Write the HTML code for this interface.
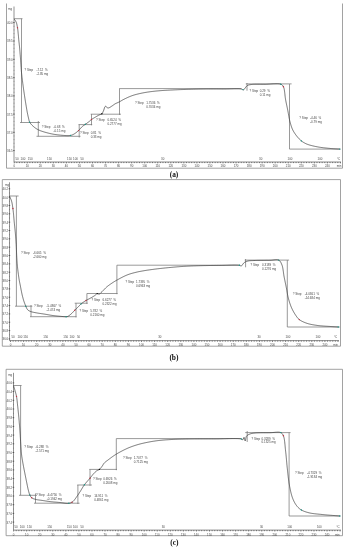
<!DOCTYPE html>
<html><head><meta charset="utf-8"><title>TGA curves</title>
<style>
html,body{margin:0;padding:0;background:#fff;}
body{width:346px;height:550px;overflow:hidden;}
svg{display:block;filter:blur(0.25px);}
svg text{font-family:"Liberation Sans",Arial,sans-serif;}
</style></head>
<body>
<svg width="346" height="550" viewBox="0 0 346 550">
<rect width="346" height="550" fill="#fff"/>
<line x1="6.50" y1="3.50" x2="6.50" y2="168.20" stroke="#8a8a8a" stroke-width="0.8"/>
<line x1="342.50" y1="3.50" x2="342.50" y2="168.20" stroke="#8a8a8a" stroke-width="0.8"/>
<line x1="6.50" y1="168.20" x2="342.50" y2="168.20" stroke="#8a8a8a" stroke-width="0.8"/>
<line x1="14.00" y1="6.50" x2="14.00" y2="162.00" stroke="#6e6e6e" stroke-width="0.75"/>
<line x1="14.00" y1="162.00" x2="341.00" y2="162.00" stroke="#5a5a5a" stroke-width="0.7"/>
<line x1="13.10" y1="22.60" x2="14.70" y2="22.60" stroke="#333" stroke-width="0.7"/>
<text x="12.70" y="24.04" font-size="2.9" text-anchor="end" fill="#4a4a4a">40.0</text>
<line x1="13.10" y1="41.00" x2="14.70" y2="41.00" stroke="#333" stroke-width="0.7"/>
<text x="12.70" y="42.44" font-size="2.9" text-anchor="end" fill="#4a4a4a">39.5</text>
<line x1="13.10" y1="59.30" x2="14.70" y2="59.30" stroke="#333" stroke-width="0.7"/>
<text x="12.70" y="60.74" font-size="2.9" text-anchor="end" fill="#4a4a4a">39.0</text>
<line x1="13.10" y1="77.70" x2="14.70" y2="77.70" stroke="#333" stroke-width="0.7"/>
<text x="12.70" y="79.14" font-size="2.9" text-anchor="end" fill="#4a4a4a">38.5</text>
<line x1="13.10" y1="95.90" x2="14.70" y2="95.90" stroke="#333" stroke-width="0.7"/>
<text x="12.70" y="97.34" font-size="2.9" text-anchor="end" fill="#4a4a4a">38.0</text>
<line x1="13.10" y1="114.10" x2="14.70" y2="114.10" stroke="#333" stroke-width="0.7"/>
<text x="12.70" y="115.54" font-size="2.9" text-anchor="end" fill="#4a4a4a">37.5</text>
<line x1="13.10" y1="132.30" x2="14.70" y2="132.30" stroke="#333" stroke-width="0.7"/>
<text x="12.70" y="133.74" font-size="2.9" text-anchor="end" fill="#4a4a4a">37.0</text>
<line x1="13.10" y1="150.60" x2="14.70" y2="150.60" stroke="#333" stroke-width="0.7"/>
<text x="12.70" y="152.04" font-size="2.9" text-anchor="end" fill="#4a4a4a">36.5</text>
<line x1="13.50" y1="26.28" x2="14.50" y2="26.28" stroke="#666" stroke-width="0.5"/>
<line x1="13.50" y1="29.96" x2="14.50" y2="29.96" stroke="#666" stroke-width="0.5"/>
<line x1="13.50" y1="33.64" x2="14.50" y2="33.64" stroke="#666" stroke-width="0.5"/>
<line x1="13.50" y1="37.32" x2="14.50" y2="37.32" stroke="#666" stroke-width="0.5"/>
<line x1="13.50" y1="44.66" x2="14.50" y2="44.66" stroke="#666" stroke-width="0.5"/>
<line x1="13.50" y1="48.32" x2="14.50" y2="48.32" stroke="#666" stroke-width="0.5"/>
<line x1="13.50" y1="51.98" x2="14.50" y2="51.98" stroke="#666" stroke-width="0.5"/>
<line x1="13.50" y1="55.64" x2="14.50" y2="55.64" stroke="#666" stroke-width="0.5"/>
<line x1="13.50" y1="62.98" x2="14.50" y2="62.98" stroke="#666" stroke-width="0.5"/>
<line x1="13.50" y1="66.66" x2="14.50" y2="66.66" stroke="#666" stroke-width="0.5"/>
<line x1="13.50" y1="70.34" x2="14.50" y2="70.34" stroke="#666" stroke-width="0.5"/>
<line x1="13.50" y1="74.02" x2="14.50" y2="74.02" stroke="#666" stroke-width="0.5"/>
<line x1="13.50" y1="81.34" x2="14.50" y2="81.34" stroke="#666" stroke-width="0.5"/>
<line x1="13.50" y1="84.98" x2="14.50" y2="84.98" stroke="#666" stroke-width="0.5"/>
<line x1="13.50" y1="88.62" x2="14.50" y2="88.62" stroke="#666" stroke-width="0.5"/>
<line x1="13.50" y1="92.26" x2="14.50" y2="92.26" stroke="#666" stroke-width="0.5"/>
<line x1="13.50" y1="99.54" x2="14.50" y2="99.54" stroke="#666" stroke-width="0.5"/>
<line x1="13.50" y1="103.18" x2="14.50" y2="103.18" stroke="#666" stroke-width="0.5"/>
<line x1="13.50" y1="106.82" x2="14.50" y2="106.82" stroke="#666" stroke-width="0.5"/>
<line x1="13.50" y1="110.46" x2="14.50" y2="110.46" stroke="#666" stroke-width="0.5"/>
<line x1="13.50" y1="117.74" x2="14.50" y2="117.74" stroke="#666" stroke-width="0.5"/>
<line x1="13.50" y1="121.38" x2="14.50" y2="121.38" stroke="#666" stroke-width="0.5"/>
<line x1="13.50" y1="125.02" x2="14.50" y2="125.02" stroke="#666" stroke-width="0.5"/>
<line x1="13.50" y1="128.66" x2="14.50" y2="128.66" stroke="#666" stroke-width="0.5"/>
<line x1="13.50" y1="135.96" x2="14.50" y2="135.96" stroke="#666" stroke-width="0.5"/>
<line x1="13.50" y1="139.62" x2="14.50" y2="139.62" stroke="#666" stroke-width="0.5"/>
<line x1="13.50" y1="143.28" x2="14.50" y2="143.28" stroke="#666" stroke-width="0.5"/>
<line x1="13.50" y1="146.94" x2="14.50" y2="146.94" stroke="#666" stroke-width="0.5"/>
<line x1="14.20" y1="162.00" x2="14.20" y2="163.40" stroke="#333" stroke-width="0.6"/>
<text x="14.20" y="167.44" font-size="2.9" text-anchor="middle" fill="#4a4a4a">0</text>
<line x1="16.81" y1="162.00" x2="16.81" y2="163.10" stroke="#333" stroke-width="0.6"/>
<line x1="19.42" y1="162.00" x2="19.42" y2="163.10" stroke="#333" stroke-width="0.6"/>
<line x1="22.03" y1="162.00" x2="22.03" y2="163.10" stroke="#333" stroke-width="0.6"/>
<line x1="24.64" y1="162.00" x2="24.64" y2="163.10" stroke="#333" stroke-width="0.6"/>
<line x1="27.25" y1="162.00" x2="27.25" y2="163.40" stroke="#333" stroke-width="0.6"/>
<text x="27.25" y="167.44" font-size="2.9" text-anchor="middle" fill="#4a4a4a">10</text>
<line x1="29.86" y1="162.00" x2="29.86" y2="163.10" stroke="#333" stroke-width="0.6"/>
<line x1="32.47" y1="162.00" x2="32.47" y2="163.10" stroke="#333" stroke-width="0.6"/>
<line x1="35.08" y1="162.00" x2="35.08" y2="163.10" stroke="#333" stroke-width="0.6"/>
<line x1="37.69" y1="162.00" x2="37.69" y2="163.10" stroke="#333" stroke-width="0.6"/>
<line x1="40.30" y1="162.00" x2="40.30" y2="163.40" stroke="#333" stroke-width="0.6"/>
<text x="40.30" y="167.44" font-size="2.9" text-anchor="middle" fill="#4a4a4a">20</text>
<line x1="42.91" y1="162.00" x2="42.91" y2="163.10" stroke="#333" stroke-width="0.6"/>
<line x1="45.52" y1="162.00" x2="45.52" y2="163.10" stroke="#333" stroke-width="0.6"/>
<line x1="48.13" y1="162.00" x2="48.13" y2="163.10" stroke="#333" stroke-width="0.6"/>
<line x1="50.74" y1="162.00" x2="50.74" y2="163.10" stroke="#333" stroke-width="0.6"/>
<line x1="53.35" y1="162.00" x2="53.35" y2="163.40" stroke="#333" stroke-width="0.6"/>
<text x="53.35" y="167.44" font-size="2.9" text-anchor="middle" fill="#4a4a4a">30</text>
<line x1="55.96" y1="162.00" x2="55.96" y2="163.10" stroke="#333" stroke-width="0.6"/>
<line x1="58.57" y1="162.00" x2="58.57" y2="163.10" stroke="#333" stroke-width="0.6"/>
<line x1="61.18" y1="162.00" x2="61.18" y2="163.10" stroke="#333" stroke-width="0.6"/>
<line x1="63.79" y1="162.00" x2="63.79" y2="163.10" stroke="#333" stroke-width="0.6"/>
<line x1="66.40" y1="162.00" x2="66.40" y2="163.40" stroke="#333" stroke-width="0.6"/>
<text x="66.40" y="167.44" font-size="2.9" text-anchor="middle" fill="#4a4a4a">40</text>
<line x1="69.01" y1="162.00" x2="69.01" y2="163.10" stroke="#333" stroke-width="0.6"/>
<line x1="71.62" y1="162.00" x2="71.62" y2="163.10" stroke="#333" stroke-width="0.6"/>
<line x1="74.23" y1="162.00" x2="74.23" y2="163.10" stroke="#333" stroke-width="0.6"/>
<line x1="76.84" y1="162.00" x2="76.84" y2="163.10" stroke="#333" stroke-width="0.6"/>
<line x1="79.45" y1="162.00" x2="79.45" y2="163.40" stroke="#333" stroke-width="0.6"/>
<text x="79.45" y="167.44" font-size="2.9" text-anchor="middle" fill="#4a4a4a">50</text>
<line x1="82.06" y1="162.00" x2="82.06" y2="163.10" stroke="#333" stroke-width="0.6"/>
<line x1="84.67" y1="162.00" x2="84.67" y2="163.10" stroke="#333" stroke-width="0.6"/>
<line x1="87.28" y1="162.00" x2="87.28" y2="163.10" stroke="#333" stroke-width="0.6"/>
<line x1="89.89" y1="162.00" x2="89.89" y2="163.10" stroke="#333" stroke-width="0.6"/>
<line x1="92.50" y1="162.00" x2="92.50" y2="163.40" stroke="#333" stroke-width="0.6"/>
<text x="92.50" y="167.44" font-size="2.9" text-anchor="middle" fill="#4a4a4a">60</text>
<line x1="95.11" y1="162.00" x2="95.11" y2="163.10" stroke="#333" stroke-width="0.6"/>
<line x1="97.72" y1="162.00" x2="97.72" y2="163.10" stroke="#333" stroke-width="0.6"/>
<line x1="100.33" y1="162.00" x2="100.33" y2="163.10" stroke="#333" stroke-width="0.6"/>
<line x1="102.94" y1="162.00" x2="102.94" y2="163.10" stroke="#333" stroke-width="0.6"/>
<line x1="105.55" y1="162.00" x2="105.55" y2="163.40" stroke="#333" stroke-width="0.6"/>
<text x="105.55" y="167.44" font-size="2.9" text-anchor="middle" fill="#4a4a4a">70</text>
<line x1="108.16" y1="162.00" x2="108.16" y2="163.10" stroke="#333" stroke-width="0.6"/>
<line x1="110.77" y1="162.00" x2="110.77" y2="163.10" stroke="#333" stroke-width="0.6"/>
<line x1="113.38" y1="162.00" x2="113.38" y2="163.10" stroke="#333" stroke-width="0.6"/>
<line x1="115.99" y1="162.00" x2="115.99" y2="163.10" stroke="#333" stroke-width="0.6"/>
<line x1="118.60" y1="162.00" x2="118.60" y2="163.40" stroke="#333" stroke-width="0.6"/>
<text x="118.60" y="167.44" font-size="2.9" text-anchor="middle" fill="#4a4a4a">80</text>
<line x1="121.21" y1="162.00" x2="121.21" y2="163.10" stroke="#333" stroke-width="0.6"/>
<line x1="123.82" y1="162.00" x2="123.82" y2="163.10" stroke="#333" stroke-width="0.6"/>
<line x1="126.43" y1="162.00" x2="126.43" y2="163.10" stroke="#333" stroke-width="0.6"/>
<line x1="129.04" y1="162.00" x2="129.04" y2="163.10" stroke="#333" stroke-width="0.6"/>
<line x1="131.65" y1="162.00" x2="131.65" y2="163.40" stroke="#333" stroke-width="0.6"/>
<text x="131.65" y="167.44" font-size="2.9" text-anchor="middle" fill="#4a4a4a">90</text>
<line x1="134.26" y1="162.00" x2="134.26" y2="163.10" stroke="#333" stroke-width="0.6"/>
<line x1="136.87" y1="162.00" x2="136.87" y2="163.10" stroke="#333" stroke-width="0.6"/>
<line x1="139.48" y1="162.00" x2="139.48" y2="163.10" stroke="#333" stroke-width="0.6"/>
<line x1="142.09" y1="162.00" x2="142.09" y2="163.10" stroke="#333" stroke-width="0.6"/>
<line x1="144.70" y1="162.00" x2="144.70" y2="163.40" stroke="#333" stroke-width="0.6"/>
<text x="144.70" y="167.44" font-size="2.9" text-anchor="middle" fill="#4a4a4a">100</text>
<line x1="147.31" y1="162.00" x2="147.31" y2="163.10" stroke="#333" stroke-width="0.6"/>
<line x1="149.92" y1="162.00" x2="149.92" y2="163.10" stroke="#333" stroke-width="0.6"/>
<line x1="152.53" y1="162.00" x2="152.53" y2="163.10" stroke="#333" stroke-width="0.6"/>
<line x1="155.14" y1="162.00" x2="155.14" y2="163.10" stroke="#333" stroke-width="0.6"/>
<line x1="157.75" y1="162.00" x2="157.75" y2="163.40" stroke="#333" stroke-width="0.6"/>
<text x="157.75" y="167.44" font-size="2.9" text-anchor="middle" fill="#4a4a4a">110</text>
<line x1="160.36" y1="162.00" x2="160.36" y2="163.10" stroke="#333" stroke-width="0.6"/>
<line x1="162.97" y1="162.00" x2="162.97" y2="163.10" stroke="#333" stroke-width="0.6"/>
<line x1="165.58" y1="162.00" x2="165.58" y2="163.10" stroke="#333" stroke-width="0.6"/>
<line x1="168.19" y1="162.00" x2="168.19" y2="163.10" stroke="#333" stroke-width="0.6"/>
<line x1="170.80" y1="162.00" x2="170.80" y2="163.40" stroke="#333" stroke-width="0.6"/>
<text x="170.80" y="167.44" font-size="2.9" text-anchor="middle" fill="#4a4a4a">120</text>
<line x1="173.41" y1="162.00" x2="173.41" y2="163.10" stroke="#333" stroke-width="0.6"/>
<line x1="176.02" y1="162.00" x2="176.02" y2="163.10" stroke="#333" stroke-width="0.6"/>
<line x1="178.63" y1="162.00" x2="178.63" y2="163.10" stroke="#333" stroke-width="0.6"/>
<line x1="181.24" y1="162.00" x2="181.24" y2="163.10" stroke="#333" stroke-width="0.6"/>
<line x1="183.85" y1="162.00" x2="183.85" y2="163.40" stroke="#333" stroke-width="0.6"/>
<text x="183.85" y="167.44" font-size="2.9" text-anchor="middle" fill="#4a4a4a">130</text>
<line x1="186.46" y1="162.00" x2="186.46" y2="163.10" stroke="#333" stroke-width="0.6"/>
<line x1="189.07" y1="162.00" x2="189.07" y2="163.10" stroke="#333" stroke-width="0.6"/>
<line x1="191.68" y1="162.00" x2="191.68" y2="163.10" stroke="#333" stroke-width="0.6"/>
<line x1="194.29" y1="162.00" x2="194.29" y2="163.10" stroke="#333" stroke-width="0.6"/>
<line x1="196.90" y1="162.00" x2="196.90" y2="163.40" stroke="#333" stroke-width="0.6"/>
<text x="196.90" y="167.44" font-size="2.9" text-anchor="middle" fill="#4a4a4a">140</text>
<line x1="199.51" y1="162.00" x2="199.51" y2="163.10" stroke="#333" stroke-width="0.6"/>
<line x1="202.12" y1="162.00" x2="202.12" y2="163.10" stroke="#333" stroke-width="0.6"/>
<line x1="204.73" y1="162.00" x2="204.73" y2="163.10" stroke="#333" stroke-width="0.6"/>
<line x1="207.34" y1="162.00" x2="207.34" y2="163.10" stroke="#333" stroke-width="0.6"/>
<line x1="209.95" y1="162.00" x2="209.95" y2="163.40" stroke="#333" stroke-width="0.6"/>
<text x="209.95" y="167.44" font-size="2.9" text-anchor="middle" fill="#4a4a4a">150</text>
<line x1="212.56" y1="162.00" x2="212.56" y2="163.10" stroke="#333" stroke-width="0.6"/>
<line x1="215.17" y1="162.00" x2="215.17" y2="163.10" stroke="#333" stroke-width="0.6"/>
<line x1="217.78" y1="162.00" x2="217.78" y2="163.10" stroke="#333" stroke-width="0.6"/>
<line x1="220.39" y1="162.00" x2="220.39" y2="163.10" stroke="#333" stroke-width="0.6"/>
<line x1="223.00" y1="162.00" x2="223.00" y2="163.40" stroke="#333" stroke-width="0.6"/>
<text x="223.00" y="167.44" font-size="2.9" text-anchor="middle" fill="#4a4a4a">160</text>
<line x1="225.61" y1="162.00" x2="225.61" y2="163.10" stroke="#333" stroke-width="0.6"/>
<line x1="228.22" y1="162.00" x2="228.22" y2="163.10" stroke="#333" stroke-width="0.6"/>
<line x1="230.83" y1="162.00" x2="230.83" y2="163.10" stroke="#333" stroke-width="0.6"/>
<line x1="233.44" y1="162.00" x2="233.44" y2="163.10" stroke="#333" stroke-width="0.6"/>
<line x1="236.05" y1="162.00" x2="236.05" y2="163.40" stroke="#333" stroke-width="0.6"/>
<text x="236.05" y="167.44" font-size="2.9" text-anchor="middle" fill="#4a4a4a">170</text>
<line x1="238.66" y1="162.00" x2="238.66" y2="163.10" stroke="#333" stroke-width="0.6"/>
<line x1="241.27" y1="162.00" x2="241.27" y2="163.10" stroke="#333" stroke-width="0.6"/>
<line x1="243.88" y1="162.00" x2="243.88" y2="163.10" stroke="#333" stroke-width="0.6"/>
<line x1="246.49" y1="162.00" x2="246.49" y2="163.10" stroke="#333" stroke-width="0.6"/>
<line x1="249.10" y1="162.00" x2="249.10" y2="163.40" stroke="#333" stroke-width="0.6"/>
<text x="249.10" y="167.44" font-size="2.9" text-anchor="middle" fill="#4a4a4a">180</text>
<line x1="251.71" y1="162.00" x2="251.71" y2="163.10" stroke="#333" stroke-width="0.6"/>
<line x1="254.32" y1="162.00" x2="254.32" y2="163.10" stroke="#333" stroke-width="0.6"/>
<line x1="256.93" y1="162.00" x2="256.93" y2="163.10" stroke="#333" stroke-width="0.6"/>
<line x1="259.54" y1="162.00" x2="259.54" y2="163.10" stroke="#333" stroke-width="0.6"/>
<line x1="262.15" y1="162.00" x2="262.15" y2="163.40" stroke="#333" stroke-width="0.6"/>
<text x="262.15" y="167.44" font-size="2.9" text-anchor="middle" fill="#4a4a4a">190</text>
<line x1="264.76" y1="162.00" x2="264.76" y2="163.10" stroke="#333" stroke-width="0.6"/>
<line x1="267.37" y1="162.00" x2="267.37" y2="163.10" stroke="#333" stroke-width="0.6"/>
<line x1="269.98" y1="162.00" x2="269.98" y2="163.10" stroke="#333" stroke-width="0.6"/>
<line x1="272.59" y1="162.00" x2="272.59" y2="163.10" stroke="#333" stroke-width="0.6"/>
<line x1="275.20" y1="162.00" x2="275.20" y2="163.40" stroke="#333" stroke-width="0.6"/>
<text x="275.20" y="167.44" font-size="2.9" text-anchor="middle" fill="#4a4a4a">200</text>
<line x1="277.81" y1="162.00" x2="277.81" y2="163.10" stroke="#333" stroke-width="0.6"/>
<line x1="280.42" y1="162.00" x2="280.42" y2="163.10" stroke="#333" stroke-width="0.6"/>
<line x1="283.03" y1="162.00" x2="283.03" y2="163.10" stroke="#333" stroke-width="0.6"/>
<line x1="285.64" y1="162.00" x2="285.64" y2="163.10" stroke="#333" stroke-width="0.6"/>
<line x1="288.25" y1="162.00" x2="288.25" y2="163.40" stroke="#333" stroke-width="0.6"/>
<text x="288.25" y="167.44" font-size="2.9" text-anchor="middle" fill="#4a4a4a">210</text>
<line x1="290.86" y1="162.00" x2="290.86" y2="163.10" stroke="#333" stroke-width="0.6"/>
<line x1="293.47" y1="162.00" x2="293.47" y2="163.10" stroke="#333" stroke-width="0.6"/>
<line x1="296.08" y1="162.00" x2="296.08" y2="163.10" stroke="#333" stroke-width="0.6"/>
<line x1="298.69" y1="162.00" x2="298.69" y2="163.10" stroke="#333" stroke-width="0.6"/>
<line x1="301.30" y1="162.00" x2="301.30" y2="163.40" stroke="#333" stroke-width="0.6"/>
<text x="301.30" y="167.44" font-size="2.9" text-anchor="middle" fill="#4a4a4a">220</text>
<line x1="303.91" y1="162.00" x2="303.91" y2="163.10" stroke="#333" stroke-width="0.6"/>
<line x1="306.52" y1="162.00" x2="306.52" y2="163.10" stroke="#333" stroke-width="0.6"/>
<line x1="309.13" y1="162.00" x2="309.13" y2="163.10" stroke="#333" stroke-width="0.6"/>
<line x1="311.74" y1="162.00" x2="311.74" y2="163.10" stroke="#333" stroke-width="0.6"/>
<line x1="314.35" y1="162.00" x2="314.35" y2="163.40" stroke="#333" stroke-width="0.6"/>
<text x="314.35" y="167.44" font-size="2.9" text-anchor="middle" fill="#4a4a4a">230</text>
<line x1="316.96" y1="162.00" x2="316.96" y2="163.10" stroke="#333" stroke-width="0.6"/>
<line x1="319.57" y1="162.00" x2="319.57" y2="163.10" stroke="#333" stroke-width="0.6"/>
<line x1="322.18" y1="162.00" x2="322.18" y2="163.10" stroke="#333" stroke-width="0.6"/>
<line x1="324.79" y1="162.00" x2="324.79" y2="163.10" stroke="#333" stroke-width="0.6"/>
<line x1="327.40" y1="162.00" x2="327.40" y2="163.40" stroke="#333" stroke-width="0.6"/>
<text x="327.40" y="167.44" font-size="2.9" text-anchor="middle" fill="#4a4a4a">240</text>
<line x1="330.01" y1="162.00" x2="330.01" y2="163.10" stroke="#333" stroke-width="0.6"/>
<line x1="332.62" y1="162.00" x2="332.62" y2="163.10" stroke="#333" stroke-width="0.6"/>
<line x1="335.23" y1="162.00" x2="335.23" y2="163.10" stroke="#333" stroke-width="0.6"/>
<line x1="337.84" y1="162.00" x2="337.84" y2="163.10" stroke="#333" stroke-width="0.6"/>
<line x1="340.45" y1="162.00" x2="340.45" y2="163.40" stroke="#333" stroke-width="0.6"/>
<text x="339.00" y="167.44" font-size="2.9" text-anchor="middle" fill="#4a4a4a">min</text>
<text x="8.00" y="9.94" font-size="2.9" text-anchor="start" fill="#4a4a4a">mg</text>
<text x="17.00" y="160.14" font-size="2.9" text-anchor="middle" fill="#4a4a4a">50</text>
<text x="23.00" y="160.14" font-size="2.9" text-anchor="middle" fill="#4a4a4a">100</text>
<text x="30.20" y="160.14" font-size="2.9" text-anchor="middle" fill="#4a4a4a">150</text>
<text x="49.50" y="160.14" font-size="2.9" text-anchor="middle" fill="#4a4a4a">150</text>
<text x="69.50" y="160.14" font-size="2.9" text-anchor="middle" fill="#4a4a4a">150</text>
<text x="75.50" y="160.14" font-size="2.9" text-anchor="middle" fill="#4a4a4a">100</text>
<text x="82.00" y="160.14" font-size="2.9" text-anchor="middle" fill="#4a4a4a">50</text>
<text x="162.70" y="160.14" font-size="2.9" text-anchor="middle" fill="#4a4a4a">30</text>
<text x="260.70" y="160.14" font-size="2.9" text-anchor="middle" fill="#4a4a4a">30</text>
<text x="290.00" y="160.14" font-size="2.9" text-anchor="middle" fill="#4a4a4a">100</text>
<text x="320.00" y="160.14" font-size="2.9" text-anchor="middle" fill="#4a4a4a">100</text>
<text x="338.50" y="160.14" font-size="2.9" text-anchor="middle" fill="#4a4a4a">°C</text>
<polyline points="14.00,18.70 22.50,18.70" fill="none" stroke="#6e6e6e" stroke-width="0.7"/>
<polyline points="21.50,18.70 21.50,122.50" fill="none" stroke="#6e6e6e" stroke-width="0.7"/>
<polyline points="20.00,122.50 40.00,122.50" fill="none" stroke="#6e6e6e" stroke-width="0.7"/>
<polyline points="38.30,121.00 38.30,136.30" fill="none" stroke="#6e6e6e" stroke-width="0.7"/>
<polyline points="36.50,136.30 80.50,136.30" fill="none" stroke="#6e6e6e" stroke-width="0.7"/>
<polyline points="79.20,137.50 79.20,124.60" fill="none" stroke="#6e6e6e" stroke-width="0.7"/>
<polyline points="78.50,124.60 92.20,124.60" fill="none" stroke="#6e6e6e" stroke-width="0.7"/>
<polyline points="91.50,125.30 91.50,114.20" fill="none" stroke="#6e6e6e" stroke-width="0.7"/>
<polyline points="90.70,114.20 121.00,114.20" fill="none" stroke="#6e6e6e" stroke-width="0.7"/>
<polyline points="119.50,114.90 119.50,88.60" fill="none" stroke="#6e6e6e" stroke-width="0.7"/>
<polyline points="119.30,88.60 241.50,88.60" fill="none" stroke="#6e6e6e" stroke-width="0.7"/>
<polyline points="245.80,83.90 291.60,83.90" fill="none" stroke="#6e6e6e" stroke-width="0.7"/>
<polyline points="247.00,83.00 247.00,90.70" fill="none" stroke="#6e6e6e" stroke-width="0.7"/>
<polyline points="289.50,84.10 289.50,149.10" fill="none" stroke="#6e6e6e" stroke-width="0.7"/>
<polyline points="289.50,149.10 340.50,149.10" fill="none" stroke="#6e6e6e" stroke-width="0.7"/>
<path d="M14.10,18.90 L14.53,19.54 L14.98,20.16 L15.43,20.80 L15.84,21.47 L16.20,22.20 L16.43,22.81 L16.63,23.45 L16.81,24.13 L16.97,24.83 L17.12,25.55 L17.25,26.27 L17.38,26.99 L17.50,27.70 L17.62,28.42 L17.72,29.15 L17.82,29.88 L17.90,30.61 L17.98,31.35 L18.05,32.09 L18.12,32.84 L18.20,33.60 L18.27,34.32 L18.34,35.04 L18.41,35.77 L18.47,36.51 L18.53,37.25 L18.60,37.99 L18.66,38.73 L18.73,39.47 L18.80,40.20 L18.87,40.92 L18.95,41.63 L19.03,42.33 L19.11,43.03 L19.19,43.73 L19.26,44.45 L19.34,45.18 L19.42,45.93 L19.50,46.70 L19.56,47.36 L19.63,48.04 L19.69,48.73 L19.75,49.43 L19.82,50.14 L19.88,50.86 L19.94,51.59 L20.00,52.32 L20.06,53.06 L20.12,53.80 L20.18,54.53 L20.24,55.27 L20.30,56.00 L20.35,56.71 L20.41,57.43 L20.46,58.16 L20.51,58.89 L20.56,59.63 L20.61,60.37 L20.66,61.11 L20.71,61.85 L20.76,62.57 L20.81,63.29 L20.86,63.99 L20.91,64.68 L20.95,65.35 L21.00,66.00 L21.06,66.77 L21.11,67.50 L21.15,68.19 L21.20,68.87 L21.25,69.54 L21.30,70.23 L21.36,70.94 L21.42,71.69 L21.50,72.50 L21.56,73.13 L21.63,73.79 L21.71,74.48 L21.79,75.19 L21.87,75.91 L21.95,76.66 L22.04,77.41 L22.14,78.18 L22.23,78.95 L22.33,79.73 L22.42,80.51 L22.52,81.28 L22.62,82.05 L22.71,82.81 L22.81,83.56 L22.91,84.29 L23.00,85.00 L23.10,85.73 L23.19,86.45 L23.29,87.17 L23.39,87.88 L23.49,88.59 L23.59,89.29 L23.69,89.99 L23.79,90.69 L23.89,91.38 L23.99,92.07 L24.09,92.76 L24.19,93.45 L24.30,94.13 L24.40,94.82 L24.50,95.50 L24.61,96.25 L24.73,97.00 L24.84,97.74 L24.96,98.49 L25.07,99.23 L25.19,99.96 L25.30,100.70 L25.42,101.43 L25.53,102.15 L25.65,102.87 L25.77,103.59 L25.88,104.30 L26.00,105.00 L26.13,105.76 L26.25,106.52 L26.38,107.28 L26.51,108.04 L26.64,108.79 L26.76,109.53 L26.89,110.26 L27.02,110.97 L27.15,111.67 L27.27,112.35 L27.40,113.00 L27.56,113.78 L27.71,114.53 L27.86,115.25 L28.01,115.95 L28.17,116.64 L28.33,117.32 L28.50,118.00 L28.67,118.73 L28.82,119.45 L28.98,120.16 L29.16,120.85 L29.39,121.54 L29.70,122.20 L30.06,122.81 L30.48,123.41 L30.94,123.99 L31.44,124.57 L31.97,125.13 L32.53,125.67 L33.10,126.20 L33.60,126.64 L34.11,127.07 L34.63,127.49 L35.18,127.90 L35.74,128.31 L36.34,128.70 L36.96,129.07 L37.61,129.44 L38.30,129.80 L38.88,130.07 L39.48,130.34 L40.12,130.60 L40.78,130.86 L41.46,131.10 L42.16,131.34 L42.88,131.58 L43.60,131.81 L44.34,132.03 L45.07,132.24 L45.81,132.45 L46.55,132.65 L47.28,132.84 L47.99,133.02 L48.70,133.20 L49.43,133.38 L50.16,133.55 L50.89,133.71 L51.61,133.86 L52.34,134.01 L53.07,134.15 L53.80,134.28 L54.53,134.40 L55.27,134.52 L56.01,134.63 L56.75,134.73 L57.49,134.83 L58.24,134.92 L59.00,135.00 L59.71,135.07 L60.45,135.15 L61.21,135.22 L61.98,135.29 L62.77,135.36 L63.55,135.42 L64.34,135.47 L65.12,135.52 L65.89,135.55 L66.65,135.58 L67.38,135.59 L68.08,135.59 L68.75,135.57 L69.38,135.53 L69.96,135.48 L70.50,135.40 L71.36,135.22 L72.10,134.99 L72.76,134.71 L73.41,134.38 L74.10,134.00 L74.73,133.62 L75.37,133.18 L76.02,132.71 L76.66,132.20 L77.29,131.67 L77.91,131.13 L78.50,130.60 L79.05,130.06 L79.57,129.49 L80.08,128.90 L80.58,128.31 L81.08,127.74 L81.58,127.20 L82.10,126.70 L82.75,126.16 L83.40,125.68 L84.05,125.23 L84.72,124.78 L85.40,124.30 L86.05,123.83 L86.72,123.34 L87.40,122.84 L88.08,122.34 L88.72,121.86 L89.30,121.40 L89.88,120.90 L90.40,120.43 L90.92,119.96 L91.50,119.50 L92.04,119.13 L92.62,118.76 L93.23,118.39 L93.86,118.02 L94.49,117.66 L95.10,117.30 L95.82,116.87 L96.54,116.43 L97.27,116.00 L97.99,115.59 L98.70,115.20 L99.37,114.90 L100.06,114.64 L100.74,114.39 L101.36,114.09 L101.90,113.70 L102.40,113.09 L102.79,112.38 L103.14,111.61 L103.50,110.80 L103.80,110.03 L104.08,109.11 L104.36,108.16 L104.66,107.29 L105.00,106.64 L105.40,106.30 L105.96,106.47 L106.59,107.05 L107.27,107.68 L108.00,108.00 L108.66,107.91 L109.39,107.63 L110.15,107.21 L110.91,106.72 L111.64,106.23 L112.30,105.80 L113.01,105.33 L113.65,104.84 L114.29,104.36 L115.00,103.90 L115.65,103.55 L116.35,103.23 L117.08,102.91 L117.83,102.59 L118.57,102.25 L119.30,101.90 L119.92,101.57 L120.51,101.22 L121.10,100.87 L121.70,100.51 L122.33,100.14 L122.99,99.77 L123.70,99.40 L124.26,99.12 L124.85,98.83 L125.47,98.52 L126.12,98.22 L126.78,97.90 L127.45,97.59 L128.14,97.28 L128.83,96.98 L129.53,96.68 L130.23,96.39 L130.93,96.11 L131.62,95.85 L132.30,95.60 L133.01,95.36 L133.73,95.13 L134.45,94.91 L135.18,94.70 L135.90,94.50 L136.63,94.31 L137.35,94.13 L138.08,93.96 L138.81,93.79 L139.54,93.62 L140.27,93.46 L141.00,93.30 L141.72,93.15 L142.44,93.00 L143.15,92.86 L143.87,92.73 L144.58,92.60 L145.30,92.47 L146.02,92.35 L146.74,92.24 L147.47,92.12 L148.20,92.01 L148.95,91.91 L149.70,91.80 L150.40,91.70 L151.11,91.61 L151.82,91.52 L152.53,91.43 L153.25,91.35 L153.97,91.27 L154.69,91.19 L155.43,91.12 L156.17,91.04 L156.91,90.97 L157.67,90.90 L158.44,90.83 L159.21,90.77 L160.00,90.70 L160.65,90.65 L161.31,90.60 L161.97,90.55 L162.65,90.50 L163.33,90.46 L164.01,90.41 L164.70,90.37 L165.40,90.33 L166.10,90.29 L166.81,90.25 L167.52,90.22 L168.23,90.18 L168.94,90.14 L169.66,90.11 L170.38,90.07 L171.11,90.04 L171.83,90.00 L172.55,89.97 L173.28,89.93 L174.00,89.90 L174.71,89.87 L175.42,89.83 L176.13,89.80 L176.85,89.77 L177.57,89.74 L178.30,89.71 L179.03,89.68 L179.76,89.65 L180.49,89.62 L181.23,89.59 L181.96,89.57 L182.70,89.54 L183.44,89.51 L184.17,89.49 L184.91,89.46 L185.64,89.44 L186.38,89.41 L187.11,89.39 L187.84,89.36 L188.56,89.34 L189.28,89.32 L190.00,89.30 L190.72,89.28 L191.44,89.26 L192.15,89.24 L192.86,89.22 L193.56,89.20 L194.26,89.19 L194.96,89.17 L195.65,89.15 L196.35,89.14 L197.05,89.12 L197.74,89.11 L198.45,89.09 L199.15,89.08 L199.86,89.07 L200.57,89.06 L201.29,89.05 L202.02,89.04 L202.75,89.03 L203.49,89.02 L204.24,89.01 L205.00,89.00 L205.67,88.99 L206.35,88.99 L207.03,88.98 L207.72,88.98 L208.43,88.98 L209.13,88.98 L209.85,88.97 L210.57,88.97 L211.29,88.97 L212.02,88.97 L212.75,88.97 L213.48,88.97 L214.22,88.98 L214.95,88.98 L215.69,88.98 L216.43,88.98 L217.16,88.98 L217.89,88.98 L218.63,88.99 L219.36,88.99 L220.08,88.99 L220.80,88.99 L221.52,89.00 L222.23,89.00 L222.93,89.00 L223.63,89.00 L224.32,89.00 L225.00,89.00 L225.75,89.00 L226.52,88.99 L227.31,88.98 L228.10,88.96 L228.91,88.94 L229.72,88.92 L230.53,88.89 L231.35,88.87 L232.15,88.85 L232.95,88.82 L233.74,88.80 L234.52,88.78 L235.28,88.77 L236.02,88.76 L236.73,88.75 L237.42,88.76 L238.07,88.76 L238.70,88.78 L239.28,88.80 L239.83,88.84 L240.33,88.88 L240.79,88.93 L241.20,89.00 L242.15,89.37 L242.85,89.79 L243.50,89.90 L244.04,89.55 L244.53,88.91 L245.01,88.16 L245.50,87.50 L245.96,86.96 L246.42,86.42 L246.91,85.92 L247.50,85.50 L248.05,85.23 L248.64,85.03 L249.28,84.86 L249.98,84.73 L250.75,84.61 L251.60,84.50 L252.12,84.44 L252.68,84.39 L253.27,84.35 L253.89,84.32 L254.54,84.30 L255.22,84.28 L255.92,84.27 L256.63,84.27 L257.37,84.27 L258.12,84.27 L258.88,84.27 L259.65,84.28 L260.42,84.29 L261.20,84.29 L261.97,84.30 L262.74,84.30 L263.50,84.31 L264.26,84.31 L265.00,84.30 L265.71,84.29 L266.44,84.26 L267.20,84.22 L267.98,84.18 L268.78,84.12 L269.59,84.07 L270.41,84.01 L271.24,83.95 L272.06,83.89 L272.88,83.84 L273.69,83.79 L274.49,83.75 L275.27,83.72 L276.03,83.70 L276.76,83.69 L277.47,83.70 L278.13,83.73 L278.76,83.78 L279.35,83.85 L279.89,83.94 L280.37,84.05 L280.80,84.20 L281.54,84.55 L282.12,84.94 L282.59,85.41 L282.99,85.98 L283.40,86.70 L283.61,87.16 L283.80,87.68 L283.97,88.26 L284.13,88.89 L284.27,89.56 L284.39,90.28 L284.51,91.03 L284.62,91.81 L284.71,92.60 L284.81,93.42 L284.90,94.24 L284.99,95.06 L285.07,95.88 L285.17,96.69 L285.26,97.48 L285.37,98.25 L285.48,98.99 L285.60,99.70 L285.74,100.45 L285.89,101.19 L286.03,101.93 L286.18,102.65 L286.32,103.37 L286.47,104.09 L286.62,104.81 L286.77,105.52 L286.92,106.23 L287.07,106.93 L287.22,107.64 L287.36,108.35 L287.51,109.06 L287.66,109.78 L287.80,110.50 L287.94,111.23 L288.08,111.96 L288.21,112.70 L288.34,113.44 L288.46,114.18 L288.59,114.93 L288.72,115.67 L288.85,116.41 L288.98,117.14 L289.12,117.87 L289.26,118.60 L289.41,119.31 L289.56,120.02 L289.73,120.72 L289.90,121.40 L290.10,122.16 L290.31,122.92 L290.52,123.67 L290.73,124.42 L290.95,125.15 L291.18,125.88 L291.42,126.59 L291.66,127.30 L291.93,127.99 L292.20,128.68 L292.49,129.34 L292.80,130.00 L293.13,130.65 L293.48,131.29 L293.85,131.92 L294.23,132.54 L294.62,133.14 L295.02,133.74 L295.43,134.32 L295.84,134.88 L296.26,135.44 L296.68,135.98 L297.10,136.50 L297.61,137.12 L298.12,137.72 L298.63,138.30 L299.15,138.86 L299.69,139.40 L300.24,139.92 L300.81,140.42 L301.40,140.90 L301.95,141.32 L302.50,141.72 L303.06,142.10 L303.64,142.46 L304.24,142.81 L304.86,143.15 L305.50,143.48 L306.18,143.79 L306.90,144.10 L307.50,144.34 L308.13,144.57 L308.79,144.79 L309.46,145.00 L310.16,145.20 L310.88,145.40 L311.61,145.59 L312.35,145.77 L313.10,145.95 L313.87,146.12 L314.63,146.29 L315.40,146.45 L316.17,146.60 L316.94,146.75 L317.70,146.90 L318.39,147.03 L319.10,147.15 L319.81,147.26 L320.54,147.37 L321.28,147.48 L322.02,147.58 L322.76,147.67 L323.51,147.77 L324.26,147.85 L325.00,147.94 L325.75,148.02 L326.49,148.09 L327.22,148.17 L327.94,148.24 L328.65,148.31 L329.35,148.37 L330.03,148.44 L330.70,148.50 L331.45,148.57 L332.19,148.63 L332.91,148.68 L333.62,148.73 L334.32,148.78 L335.01,148.82 L335.69,148.86 L336.37,148.90 L337.05,148.94 L337.73,148.98 L338.42,149.01 L339.10,149.06 L339.80,149.10" fill="none" stroke="#363636" stroke-width="0.7"/>
<circle cx="17.50" cy="27.70" r="0.7" fill="#c03040"/>
<circle cx="29.70" cy="122.30" r="0.7" fill="#1a9a8a"/>
<circle cx="70.50" cy="135.40" r="0.7" fill="#1a9a8a"/>
<circle cx="78.50" cy="130.60" r="0.7" fill="#c03040"/>
<circle cx="85.40" cy="124.30" r="0.7" fill="#1a9a8a"/>
<circle cx="91.50" cy="119.50" r="0.7" fill="#c03040"/>
<circle cx="101.90" cy="113.70" r="0.7" fill="#111"/>
<circle cx="243.00" cy="89.60" r="0.7" fill="#1a9a8a"/>
<circle cx="280.80" cy="84.20" r="0.7" fill="#1a9a8a"/>
<circle cx="283.40" cy="86.70" r="0.7" fill="#c03040"/>
<circle cx="301.40" cy="140.90" r="0.7" fill="#1a9a8a"/>
<circle cx="339.80" cy="149.10" r="0.7" fill="#1a9a8a"/>
<text x="24.40" y="71.08" font-size="3.0" text-anchor="start" fill="#454545">? Step</text>
<text x="36.40" y="71.08" font-size="3.0" text-anchor="start" fill="#454545">-7.12  %</text>
<text x="36.40" y="74.98" font-size="3.0" text-anchor="start" fill="#454545">-2.85 mg</text>
<text x="41.70" y="127.88" font-size="3.0" text-anchor="start" fill="#454545">? Step</text>
<text x="53.50" y="127.88" font-size="3.0" text-anchor="start" fill="#454545">-0.68  %</text>
<text x="53.50" y="131.78" font-size="3.0" text-anchor="start" fill="#454545">-0.15 mg</text>
<text x="80.00" y="133.68" font-size="3.0" text-anchor="start" fill="#454545">? Step</text>
<text x="90.70" y="133.68" font-size="3.0" text-anchor="start" fill="#454545">0.81  %</text>
<text x="90.70" y="137.58" font-size="3.0" text-anchor="start" fill="#454545">0.33 mg</text>
<text x="96.10" y="120.98" font-size="3.0" text-anchor="start" fill="#454545">? Step</text>
<text x="107.40" y="120.98" font-size="3.0" text-anchor="start" fill="#454545">0.6524  %</text>
<text x="107.40" y="124.88" font-size="3.0" text-anchor="start" fill="#454545">0.2777 mg</text>
<text x="135.00" y="103.98" font-size="3.0" text-anchor="start" fill="#454545">? Step</text>
<text x="146.20" y="103.98" font-size="3.0" text-anchor="start" fill="#454545">1.7536  %</text>
<text x="146.20" y="107.88" font-size="3.0" text-anchor="start" fill="#454545">0.7034 mg</text>
<text x="249.60" y="91.88" font-size="3.0" text-anchor="start" fill="#454545">? Step</text>
<text x="259.70" y="91.88" font-size="3.0" text-anchor="start" fill="#454545">0.29  %</text>
<text x="259.70" y="95.78" font-size="3.0" text-anchor="start" fill="#454545">0.11 mg</text>
<text x="299.30" y="119.38" font-size="3.0" text-anchor="start" fill="#454545">? Step</text>
<text x="310.10" y="119.38" font-size="3.0" text-anchor="start" fill="#454545">-4.46  %</text>
<text x="310.10" y="123.28" font-size="3.0" text-anchor="start" fill="#454545">-0.79 mg</text>
<text x="174.00" y="177.00" font-size="7.4" text-anchor="middle" fill="#111" font-weight="bold" style="font-family:'Liberation Serif',serif">(a)</text>
<line x1="2.30" y1="179.60" x2="340.50" y2="179.60" stroke="#8a8a8a" stroke-width="0.8"/>
<line x1="2.30" y1="179.60" x2="2.30" y2="346.20" stroke="#8a8a8a" stroke-width="0.8"/>
<line x1="340.50" y1="179.60" x2="340.50" y2="346.20" stroke="#8a8a8a" stroke-width="0.8"/>
<line x1="2.30" y1="346.20" x2="340.50" y2="346.20" stroke="#8a8a8a" stroke-width="0.8"/>
<line x1="9.50" y1="182.30" x2="9.50" y2="340.60" stroke="#6e6e6e" stroke-width="0.75"/>
<line x1="9.50" y1="340.60" x2="339.00" y2="340.60" stroke="#5a5a5a" stroke-width="0.7"/>
<line x1="8.60" y1="188.80" x2="10.20" y2="188.80" stroke="#333" stroke-width="0.7"/>
<text x="8.20" y="190.24" font-size="2.9" text-anchor="end" fill="#4a4a4a">40.2</text>
<line x1="8.60" y1="197.14" x2="10.20" y2="197.14" stroke="#333" stroke-width="0.7"/>
<text x="8.20" y="198.58" font-size="2.9" text-anchor="end" fill="#4a4a4a">40.0</text>
<line x1="8.60" y1="205.48" x2="10.20" y2="205.48" stroke="#333" stroke-width="0.7"/>
<text x="8.20" y="206.92" font-size="2.9" text-anchor="end" fill="#4a4a4a">39.8</text>
<line x1="8.60" y1="213.82" x2="10.20" y2="213.82" stroke="#333" stroke-width="0.7"/>
<text x="8.20" y="215.26" font-size="2.9" text-anchor="end" fill="#4a4a4a">39.6</text>
<line x1="8.60" y1="222.16" x2="10.20" y2="222.16" stroke="#333" stroke-width="0.7"/>
<text x="8.20" y="223.60" font-size="2.9" text-anchor="end" fill="#4a4a4a">39.4</text>
<line x1="8.60" y1="230.50" x2="10.20" y2="230.50" stroke="#333" stroke-width="0.7"/>
<text x="8.20" y="231.94" font-size="2.9" text-anchor="end" fill="#4a4a4a">39.2</text>
<line x1="8.60" y1="238.84" x2="10.20" y2="238.84" stroke="#333" stroke-width="0.7"/>
<text x="8.20" y="240.28" font-size="2.9" text-anchor="end" fill="#4a4a4a">39.0</text>
<line x1="8.60" y1="247.18" x2="10.20" y2="247.18" stroke="#333" stroke-width="0.7"/>
<text x="8.20" y="248.62" font-size="2.9" text-anchor="end" fill="#4a4a4a">38.8</text>
<line x1="8.60" y1="255.52" x2="10.20" y2="255.52" stroke="#333" stroke-width="0.7"/>
<text x="8.20" y="256.96" font-size="2.9" text-anchor="end" fill="#4a4a4a">38.6</text>
<line x1="8.60" y1="263.86" x2="10.20" y2="263.86" stroke="#333" stroke-width="0.7"/>
<text x="8.20" y="265.30" font-size="2.9" text-anchor="end" fill="#4a4a4a">38.4</text>
<line x1="8.60" y1="272.20" x2="10.20" y2="272.20" stroke="#333" stroke-width="0.7"/>
<text x="8.20" y="273.64" font-size="2.9" text-anchor="end" fill="#4a4a4a">38.2</text>
<line x1="8.60" y1="280.54" x2="10.20" y2="280.54" stroke="#333" stroke-width="0.7"/>
<text x="8.20" y="281.98" font-size="2.9" text-anchor="end" fill="#4a4a4a">38.0</text>
<line x1="8.60" y1="288.88" x2="10.20" y2="288.88" stroke="#333" stroke-width="0.7"/>
<text x="8.20" y="290.32" font-size="2.9" text-anchor="end" fill="#4a4a4a">37.8</text>
<line x1="8.60" y1="297.22" x2="10.20" y2="297.22" stroke="#333" stroke-width="0.7"/>
<text x="8.20" y="298.66" font-size="2.9" text-anchor="end" fill="#4a4a4a">37.6</text>
<line x1="8.60" y1="305.56" x2="10.20" y2="305.56" stroke="#333" stroke-width="0.7"/>
<text x="8.20" y="307.00" font-size="2.9" text-anchor="end" fill="#4a4a4a">37.4</text>
<line x1="8.60" y1="313.90" x2="10.20" y2="313.90" stroke="#333" stroke-width="0.7"/>
<text x="8.20" y="315.34" font-size="2.9" text-anchor="end" fill="#4a4a4a">37.2</text>
<line x1="8.60" y1="322.24" x2="10.20" y2="322.24" stroke="#333" stroke-width="0.7"/>
<text x="8.20" y="323.68" font-size="2.9" text-anchor="end" fill="#4a4a4a">37.0</text>
<line x1="8.60" y1="330.58" x2="10.20" y2="330.58" stroke="#333" stroke-width="0.7"/>
<text x="8.20" y="332.02" font-size="2.9" text-anchor="end" fill="#4a4a4a">36.8</text>
<line x1="8.60" y1="338.92" x2="10.20" y2="338.92" stroke="#333" stroke-width="0.7"/>
<text x="8.20" y="340.36" font-size="2.9" text-anchor="end" fill="#4a4a4a">36.6</text>
<line x1="9.00" y1="192.97" x2="10.00" y2="192.97" stroke="#666" stroke-width="0.5"/>
<line x1="9.00" y1="201.31" x2="10.00" y2="201.31" stroke="#666" stroke-width="0.5"/>
<line x1="9.00" y1="209.65" x2="10.00" y2="209.65" stroke="#666" stroke-width="0.5"/>
<line x1="9.00" y1="217.99" x2="10.00" y2="217.99" stroke="#666" stroke-width="0.5"/>
<line x1="9.00" y1="226.33" x2="10.00" y2="226.33" stroke="#666" stroke-width="0.5"/>
<line x1="9.00" y1="234.67" x2="10.00" y2="234.67" stroke="#666" stroke-width="0.5"/>
<line x1="9.00" y1="243.01" x2="10.00" y2="243.01" stroke="#666" stroke-width="0.5"/>
<line x1="9.00" y1="251.35" x2="10.00" y2="251.35" stroke="#666" stroke-width="0.5"/>
<line x1="9.00" y1="259.69" x2="10.00" y2="259.69" stroke="#666" stroke-width="0.5"/>
<line x1="9.00" y1="268.03" x2="10.00" y2="268.03" stroke="#666" stroke-width="0.5"/>
<line x1="9.00" y1="276.37" x2="10.00" y2="276.37" stroke="#666" stroke-width="0.5"/>
<line x1="9.00" y1="284.71" x2="10.00" y2="284.71" stroke="#666" stroke-width="0.5"/>
<line x1="9.00" y1="293.05" x2="10.00" y2="293.05" stroke="#666" stroke-width="0.5"/>
<line x1="9.00" y1="301.39" x2="10.00" y2="301.39" stroke="#666" stroke-width="0.5"/>
<line x1="9.00" y1="309.73" x2="10.00" y2="309.73" stroke="#666" stroke-width="0.5"/>
<line x1="9.00" y1="318.07" x2="10.00" y2="318.07" stroke="#666" stroke-width="0.5"/>
<line x1="9.00" y1="326.41" x2="10.00" y2="326.41" stroke="#666" stroke-width="0.5"/>
<line x1="9.00" y1="334.75" x2="10.00" y2="334.75" stroke="#666" stroke-width="0.5"/>
<line x1="10.50" y1="340.60" x2="10.50" y2="342.00" stroke="#333" stroke-width="0.6"/>
<text x="10.50" y="346.04" font-size="2.9" text-anchor="middle" fill="#4a4a4a">0</text>
<line x1="13.12" y1="340.60" x2="13.12" y2="341.70" stroke="#333" stroke-width="0.6"/>
<line x1="15.74" y1="340.60" x2="15.74" y2="341.70" stroke="#333" stroke-width="0.6"/>
<line x1="18.36" y1="340.60" x2="18.36" y2="341.70" stroke="#333" stroke-width="0.6"/>
<line x1="20.98" y1="340.60" x2="20.98" y2="341.70" stroke="#333" stroke-width="0.6"/>
<line x1="23.60" y1="340.60" x2="23.60" y2="342.00" stroke="#333" stroke-width="0.6"/>
<text x="23.60" y="346.04" font-size="2.9" text-anchor="middle" fill="#4a4a4a">10</text>
<line x1="26.22" y1="340.60" x2="26.22" y2="341.70" stroke="#333" stroke-width="0.6"/>
<line x1="28.84" y1="340.60" x2="28.84" y2="341.70" stroke="#333" stroke-width="0.6"/>
<line x1="31.46" y1="340.60" x2="31.46" y2="341.70" stroke="#333" stroke-width="0.6"/>
<line x1="34.08" y1="340.60" x2="34.08" y2="341.70" stroke="#333" stroke-width="0.6"/>
<line x1="36.70" y1="340.60" x2="36.70" y2="342.00" stroke="#333" stroke-width="0.6"/>
<text x="36.70" y="346.04" font-size="2.9" text-anchor="middle" fill="#4a4a4a">20</text>
<line x1="39.32" y1="340.60" x2="39.32" y2="341.70" stroke="#333" stroke-width="0.6"/>
<line x1="41.94" y1="340.60" x2="41.94" y2="341.70" stroke="#333" stroke-width="0.6"/>
<line x1="44.56" y1="340.60" x2="44.56" y2="341.70" stroke="#333" stroke-width="0.6"/>
<line x1="47.18" y1="340.60" x2="47.18" y2="341.70" stroke="#333" stroke-width="0.6"/>
<line x1="49.80" y1="340.60" x2="49.80" y2="342.00" stroke="#333" stroke-width="0.6"/>
<text x="49.80" y="346.04" font-size="2.9" text-anchor="middle" fill="#4a4a4a">30</text>
<line x1="52.42" y1="340.60" x2="52.42" y2="341.70" stroke="#333" stroke-width="0.6"/>
<line x1="55.04" y1="340.60" x2="55.04" y2="341.70" stroke="#333" stroke-width="0.6"/>
<line x1="57.66" y1="340.60" x2="57.66" y2="341.70" stroke="#333" stroke-width="0.6"/>
<line x1="60.28" y1="340.60" x2="60.28" y2="341.70" stroke="#333" stroke-width="0.6"/>
<line x1="62.90" y1="340.60" x2="62.90" y2="342.00" stroke="#333" stroke-width="0.6"/>
<text x="62.90" y="346.04" font-size="2.9" text-anchor="middle" fill="#4a4a4a">40</text>
<line x1="65.52" y1="340.60" x2="65.52" y2="341.70" stroke="#333" stroke-width="0.6"/>
<line x1="68.14" y1="340.60" x2="68.14" y2="341.70" stroke="#333" stroke-width="0.6"/>
<line x1="70.76" y1="340.60" x2="70.76" y2="341.70" stroke="#333" stroke-width="0.6"/>
<line x1="73.38" y1="340.60" x2="73.38" y2="341.70" stroke="#333" stroke-width="0.6"/>
<line x1="76.00" y1="340.60" x2="76.00" y2="342.00" stroke="#333" stroke-width="0.6"/>
<text x="76.00" y="346.04" font-size="2.9" text-anchor="middle" fill="#4a4a4a">50</text>
<line x1="78.62" y1="340.60" x2="78.62" y2="341.70" stroke="#333" stroke-width="0.6"/>
<line x1="81.24" y1="340.60" x2="81.24" y2="341.70" stroke="#333" stroke-width="0.6"/>
<line x1="83.86" y1="340.60" x2="83.86" y2="341.70" stroke="#333" stroke-width="0.6"/>
<line x1="86.48" y1="340.60" x2="86.48" y2="341.70" stroke="#333" stroke-width="0.6"/>
<line x1="89.10" y1="340.60" x2="89.10" y2="342.00" stroke="#333" stroke-width="0.6"/>
<text x="89.10" y="346.04" font-size="2.9" text-anchor="middle" fill="#4a4a4a">60</text>
<line x1="91.72" y1="340.60" x2="91.72" y2="341.70" stroke="#333" stroke-width="0.6"/>
<line x1="94.34" y1="340.60" x2="94.34" y2="341.70" stroke="#333" stroke-width="0.6"/>
<line x1="96.96" y1="340.60" x2="96.96" y2="341.70" stroke="#333" stroke-width="0.6"/>
<line x1="99.58" y1="340.60" x2="99.58" y2="341.70" stroke="#333" stroke-width="0.6"/>
<line x1="102.20" y1="340.60" x2="102.20" y2="342.00" stroke="#333" stroke-width="0.6"/>
<text x="102.20" y="346.04" font-size="2.9" text-anchor="middle" fill="#4a4a4a">70</text>
<line x1="104.82" y1="340.60" x2="104.82" y2="341.70" stroke="#333" stroke-width="0.6"/>
<line x1="107.44" y1="340.60" x2="107.44" y2="341.70" stroke="#333" stroke-width="0.6"/>
<line x1="110.06" y1="340.60" x2="110.06" y2="341.70" stroke="#333" stroke-width="0.6"/>
<line x1="112.68" y1="340.60" x2="112.68" y2="341.70" stroke="#333" stroke-width="0.6"/>
<line x1="115.30" y1="340.60" x2="115.30" y2="342.00" stroke="#333" stroke-width="0.6"/>
<text x="115.30" y="346.04" font-size="2.9" text-anchor="middle" fill="#4a4a4a">80</text>
<line x1="117.92" y1="340.60" x2="117.92" y2="341.70" stroke="#333" stroke-width="0.6"/>
<line x1="120.54" y1="340.60" x2="120.54" y2="341.70" stroke="#333" stroke-width="0.6"/>
<line x1="123.16" y1="340.60" x2="123.16" y2="341.70" stroke="#333" stroke-width="0.6"/>
<line x1="125.78" y1="340.60" x2="125.78" y2="341.70" stroke="#333" stroke-width="0.6"/>
<line x1="128.40" y1="340.60" x2="128.40" y2="342.00" stroke="#333" stroke-width="0.6"/>
<text x="128.40" y="346.04" font-size="2.9" text-anchor="middle" fill="#4a4a4a">90</text>
<line x1="131.02" y1="340.60" x2="131.02" y2="341.70" stroke="#333" stroke-width="0.6"/>
<line x1="133.64" y1="340.60" x2="133.64" y2="341.70" stroke="#333" stroke-width="0.6"/>
<line x1="136.26" y1="340.60" x2="136.26" y2="341.70" stroke="#333" stroke-width="0.6"/>
<line x1="138.88" y1="340.60" x2="138.88" y2="341.70" stroke="#333" stroke-width="0.6"/>
<line x1="141.50" y1="340.60" x2="141.50" y2="342.00" stroke="#333" stroke-width="0.6"/>
<text x="141.50" y="346.04" font-size="2.9" text-anchor="middle" fill="#4a4a4a">100</text>
<line x1="144.12" y1="340.60" x2="144.12" y2="341.70" stroke="#333" stroke-width="0.6"/>
<line x1="146.74" y1="340.60" x2="146.74" y2="341.70" stroke="#333" stroke-width="0.6"/>
<line x1="149.36" y1="340.60" x2="149.36" y2="341.70" stroke="#333" stroke-width="0.6"/>
<line x1="151.98" y1="340.60" x2="151.98" y2="341.70" stroke="#333" stroke-width="0.6"/>
<line x1="154.60" y1="340.60" x2="154.60" y2="342.00" stroke="#333" stroke-width="0.6"/>
<text x="154.60" y="346.04" font-size="2.9" text-anchor="middle" fill="#4a4a4a">110</text>
<line x1="157.22" y1="340.60" x2="157.22" y2="341.70" stroke="#333" stroke-width="0.6"/>
<line x1="159.84" y1="340.60" x2="159.84" y2="341.70" stroke="#333" stroke-width="0.6"/>
<line x1="162.46" y1="340.60" x2="162.46" y2="341.70" stroke="#333" stroke-width="0.6"/>
<line x1="165.08" y1="340.60" x2="165.08" y2="341.70" stroke="#333" stroke-width="0.6"/>
<line x1="167.70" y1="340.60" x2="167.70" y2="342.00" stroke="#333" stroke-width="0.6"/>
<text x="167.70" y="346.04" font-size="2.9" text-anchor="middle" fill="#4a4a4a">120</text>
<line x1="170.32" y1="340.60" x2="170.32" y2="341.70" stroke="#333" stroke-width="0.6"/>
<line x1="172.94" y1="340.60" x2="172.94" y2="341.70" stroke="#333" stroke-width="0.6"/>
<line x1="175.56" y1="340.60" x2="175.56" y2="341.70" stroke="#333" stroke-width="0.6"/>
<line x1="178.18" y1="340.60" x2="178.18" y2="341.70" stroke="#333" stroke-width="0.6"/>
<line x1="180.80" y1="340.60" x2="180.80" y2="342.00" stroke="#333" stroke-width="0.6"/>
<text x="180.80" y="346.04" font-size="2.9" text-anchor="middle" fill="#4a4a4a">130</text>
<line x1="183.42" y1="340.60" x2="183.42" y2="341.70" stroke="#333" stroke-width="0.6"/>
<line x1="186.04" y1="340.60" x2="186.04" y2="341.70" stroke="#333" stroke-width="0.6"/>
<line x1="188.66" y1="340.60" x2="188.66" y2="341.70" stroke="#333" stroke-width="0.6"/>
<line x1="191.28" y1="340.60" x2="191.28" y2="341.70" stroke="#333" stroke-width="0.6"/>
<line x1="193.90" y1="340.60" x2="193.90" y2="342.00" stroke="#333" stroke-width="0.6"/>
<text x="193.90" y="346.04" font-size="2.9" text-anchor="middle" fill="#4a4a4a">140</text>
<line x1="196.52" y1="340.60" x2="196.52" y2="341.70" stroke="#333" stroke-width="0.6"/>
<line x1="199.14" y1="340.60" x2="199.14" y2="341.70" stroke="#333" stroke-width="0.6"/>
<line x1="201.76" y1="340.60" x2="201.76" y2="341.70" stroke="#333" stroke-width="0.6"/>
<line x1="204.38" y1="340.60" x2="204.38" y2="341.70" stroke="#333" stroke-width="0.6"/>
<line x1="207.00" y1="340.60" x2="207.00" y2="342.00" stroke="#333" stroke-width="0.6"/>
<text x="207.00" y="346.04" font-size="2.9" text-anchor="middle" fill="#4a4a4a">150</text>
<line x1="209.62" y1="340.60" x2="209.62" y2="341.70" stroke="#333" stroke-width="0.6"/>
<line x1="212.24" y1="340.60" x2="212.24" y2="341.70" stroke="#333" stroke-width="0.6"/>
<line x1="214.86" y1="340.60" x2="214.86" y2="341.70" stroke="#333" stroke-width="0.6"/>
<line x1="217.48" y1="340.60" x2="217.48" y2="341.70" stroke="#333" stroke-width="0.6"/>
<line x1="220.10" y1="340.60" x2="220.10" y2="342.00" stroke="#333" stroke-width="0.6"/>
<text x="220.10" y="346.04" font-size="2.9" text-anchor="middle" fill="#4a4a4a">160</text>
<line x1="222.72" y1="340.60" x2="222.72" y2="341.70" stroke="#333" stroke-width="0.6"/>
<line x1="225.34" y1="340.60" x2="225.34" y2="341.70" stroke="#333" stroke-width="0.6"/>
<line x1="227.96" y1="340.60" x2="227.96" y2="341.70" stroke="#333" stroke-width="0.6"/>
<line x1="230.58" y1="340.60" x2="230.58" y2="341.70" stroke="#333" stroke-width="0.6"/>
<line x1="233.20" y1="340.60" x2="233.20" y2="342.00" stroke="#333" stroke-width="0.6"/>
<text x="233.20" y="346.04" font-size="2.9" text-anchor="middle" fill="#4a4a4a">170</text>
<line x1="235.82" y1="340.60" x2="235.82" y2="341.70" stroke="#333" stroke-width="0.6"/>
<line x1="238.44" y1="340.60" x2="238.44" y2="341.70" stroke="#333" stroke-width="0.6"/>
<line x1="241.06" y1="340.60" x2="241.06" y2="341.70" stroke="#333" stroke-width="0.6"/>
<line x1="243.68" y1="340.60" x2="243.68" y2="341.70" stroke="#333" stroke-width="0.6"/>
<line x1="246.30" y1="340.60" x2="246.30" y2="342.00" stroke="#333" stroke-width="0.6"/>
<text x="246.30" y="346.04" font-size="2.9" text-anchor="middle" fill="#4a4a4a">180</text>
<line x1="248.92" y1="340.60" x2="248.92" y2="341.70" stroke="#333" stroke-width="0.6"/>
<line x1="251.54" y1="340.60" x2="251.54" y2="341.70" stroke="#333" stroke-width="0.6"/>
<line x1="254.16" y1="340.60" x2="254.16" y2="341.70" stroke="#333" stroke-width="0.6"/>
<line x1="256.78" y1="340.60" x2="256.78" y2="341.70" stroke="#333" stroke-width="0.6"/>
<line x1="259.40" y1="340.60" x2="259.40" y2="342.00" stroke="#333" stroke-width="0.6"/>
<text x="259.40" y="346.04" font-size="2.9" text-anchor="middle" fill="#4a4a4a">190</text>
<line x1="262.02" y1="340.60" x2="262.02" y2="341.70" stroke="#333" stroke-width="0.6"/>
<line x1="264.64" y1="340.60" x2="264.64" y2="341.70" stroke="#333" stroke-width="0.6"/>
<line x1="267.26" y1="340.60" x2="267.26" y2="341.70" stroke="#333" stroke-width="0.6"/>
<line x1="269.88" y1="340.60" x2="269.88" y2="341.70" stroke="#333" stroke-width="0.6"/>
<line x1="272.50" y1="340.60" x2="272.50" y2="342.00" stroke="#333" stroke-width="0.6"/>
<text x="272.50" y="346.04" font-size="2.9" text-anchor="middle" fill="#4a4a4a">200</text>
<line x1="275.12" y1="340.60" x2="275.12" y2="341.70" stroke="#333" stroke-width="0.6"/>
<line x1="277.74" y1="340.60" x2="277.74" y2="341.70" stroke="#333" stroke-width="0.6"/>
<line x1="280.36" y1="340.60" x2="280.36" y2="341.70" stroke="#333" stroke-width="0.6"/>
<line x1="282.98" y1="340.60" x2="282.98" y2="341.70" stroke="#333" stroke-width="0.6"/>
<line x1="285.60" y1="340.60" x2="285.60" y2="342.00" stroke="#333" stroke-width="0.6"/>
<text x="285.60" y="346.04" font-size="2.9" text-anchor="middle" fill="#4a4a4a">210</text>
<line x1="288.22" y1="340.60" x2="288.22" y2="341.70" stroke="#333" stroke-width="0.6"/>
<line x1="290.84" y1="340.60" x2="290.84" y2="341.70" stroke="#333" stroke-width="0.6"/>
<line x1="293.46" y1="340.60" x2="293.46" y2="341.70" stroke="#333" stroke-width="0.6"/>
<line x1="296.08" y1="340.60" x2="296.08" y2="341.70" stroke="#333" stroke-width="0.6"/>
<line x1="298.70" y1="340.60" x2="298.70" y2="342.00" stroke="#333" stroke-width="0.6"/>
<text x="298.70" y="346.04" font-size="2.9" text-anchor="middle" fill="#4a4a4a">220</text>
<line x1="301.32" y1="340.60" x2="301.32" y2="341.70" stroke="#333" stroke-width="0.6"/>
<line x1="303.94" y1="340.60" x2="303.94" y2="341.70" stroke="#333" stroke-width="0.6"/>
<line x1="306.56" y1="340.60" x2="306.56" y2="341.70" stroke="#333" stroke-width="0.6"/>
<line x1="309.18" y1="340.60" x2="309.18" y2="341.70" stroke="#333" stroke-width="0.6"/>
<line x1="311.80" y1="340.60" x2="311.80" y2="342.00" stroke="#333" stroke-width="0.6"/>
<text x="311.80" y="346.04" font-size="2.9" text-anchor="middle" fill="#4a4a4a">230</text>
<line x1="314.42" y1="340.60" x2="314.42" y2="341.70" stroke="#333" stroke-width="0.6"/>
<line x1="317.04" y1="340.60" x2="317.04" y2="341.70" stroke="#333" stroke-width="0.6"/>
<line x1="319.66" y1="340.60" x2="319.66" y2="341.70" stroke="#333" stroke-width="0.6"/>
<line x1="322.28" y1="340.60" x2="322.28" y2="341.70" stroke="#333" stroke-width="0.6"/>
<line x1="324.90" y1="340.60" x2="324.90" y2="342.00" stroke="#333" stroke-width="0.6"/>
<text x="324.90" y="346.04" font-size="2.9" text-anchor="middle" fill="#4a4a4a">240</text>
<line x1="327.52" y1="340.60" x2="327.52" y2="341.70" stroke="#333" stroke-width="0.6"/>
<line x1="330.14" y1="340.60" x2="330.14" y2="341.70" stroke="#333" stroke-width="0.6"/>
<line x1="332.76" y1="340.60" x2="332.76" y2="341.70" stroke="#333" stroke-width="0.6"/>
<line x1="335.38" y1="340.60" x2="335.38" y2="341.70" stroke="#333" stroke-width="0.6"/>
<line x1="338.00" y1="340.60" x2="338.00" y2="342.00" stroke="#333" stroke-width="0.6"/>
<text x="335.60" y="346.04" font-size="2.9" text-anchor="middle" fill="#4a4a4a">min</text>
<text x="5.00" y="186.34" font-size="2.9" text-anchor="start" fill="#4a4a4a">mg</text>
<text x="13.00" y="338.14" font-size="2.9" text-anchor="middle" fill="#4a4a4a">50</text>
<text x="19.90" y="338.14" font-size="2.9" text-anchor="middle" fill="#4a4a4a">100</text>
<text x="25.60" y="338.14" font-size="2.9" text-anchor="middle" fill="#4a4a4a">150</text>
<text x="45.70" y="338.14" font-size="2.9" text-anchor="middle" fill="#4a4a4a">150</text>
<text x="65.70" y="338.14" font-size="2.9" text-anchor="middle" fill="#4a4a4a">150</text>
<text x="72.00" y="338.14" font-size="2.9" text-anchor="middle" fill="#4a4a4a">100</text>
<text x="78.50" y="338.14" font-size="2.9" text-anchor="middle" fill="#4a4a4a">50</text>
<text x="159.80" y="338.14" font-size="2.9" text-anchor="middle" fill="#4a4a4a">30</text>
<text x="259.00" y="338.14" font-size="2.9" text-anchor="middle" fill="#4a4a4a">30</text>
<text x="287.90" y="338.14" font-size="2.9" text-anchor="middle" fill="#4a4a4a">100</text>
<text x="318.00" y="338.14" font-size="2.9" text-anchor="middle" fill="#4a4a4a">100</text>
<text x="335.60" y="338.14" font-size="2.9" text-anchor="middle" fill="#4a4a4a">°C</text>
<polyline points="9.40,196.00 18.60,196.00" fill="none" stroke="#6e6e6e" stroke-width="0.7"/>
<polyline points="16.40,196.00 16.40,306.20" fill="none" stroke="#6e6e6e" stroke-width="0.7"/>
<polyline points="15.00,306.20 32.30,306.20" fill="none" stroke="#6e6e6e" stroke-width="0.7"/>
<polyline points="31.00,305.00 31.00,316.70" fill="none" stroke="#6e6e6e" stroke-width="0.7"/>
<polyline points="30.00,316.70 76.50,316.70" fill="none" stroke="#6e6e6e" stroke-width="0.7"/>
<polyline points="76.00,317.40 76.00,303.20" fill="none" stroke="#6e6e6e" stroke-width="0.7"/>
<polyline points="74.70,303.20 87.70,303.20" fill="none" stroke="#6e6e6e" stroke-width="0.7"/>
<polyline points="86.90,303.90 86.90,293.50" fill="none" stroke="#6e6e6e" stroke-width="0.7"/>
<polyline points="86.90,293.50 117.60,293.50" fill="none" stroke="#6e6e6e" stroke-width="0.7"/>
<polyline points="116.90,294.20 116.90,265.20" fill="none" stroke="#6e6e6e" stroke-width="0.7"/>
<polyline points="116.90,265.20 240.00,265.20" fill="none" stroke="#6e6e6e" stroke-width="0.7"/>
<polyline points="244.70,260.10 289.10,260.10" fill="none" stroke="#6e6e6e" stroke-width="0.7"/>
<polyline points="245.60,259.00 245.60,267.30" fill="none" stroke="#6e6e6e" stroke-width="0.7"/>
<polyline points="287.30,260.10 287.30,327.00" fill="none" stroke="#6e6e6e" stroke-width="0.7"/>
<polyline points="287.30,327.00 339.80,327.00" fill="none" stroke="#6e6e6e" stroke-width="0.7"/>
<path d="M9.40,196.00 L9.71,196.69 L10.02,197.36 L10.34,198.03 L10.66,198.71 L10.96,199.41 L11.24,200.13 L11.50,200.90 L11.67,201.51 L11.83,202.14 L11.98,202.77 L12.11,203.43 L12.24,204.09 L12.35,204.78 L12.47,205.48 L12.57,206.20 L12.68,206.95 L12.79,207.71 L12.90,208.50 L12.98,209.11 L13.06,209.75 L13.14,210.41 L13.22,211.08 L13.29,211.78 L13.37,212.49 L13.44,213.21 L13.51,213.95 L13.58,214.69 L13.65,215.44 L13.71,216.19 L13.78,216.94 L13.84,217.69 L13.91,218.44 L13.97,219.18 L14.04,219.91 L14.10,220.63 L14.17,221.34 L14.23,222.03 L14.30,222.70 L14.38,223.47 L14.45,224.23 L14.53,224.97 L14.61,225.71 L14.69,226.44 L14.76,227.16 L14.84,227.88 L14.91,228.60 L14.99,229.31 L15.06,230.02 L15.13,230.73 L15.20,231.44 L15.27,232.16 L15.34,232.88 L15.40,233.60 L15.46,234.33 L15.52,235.05 L15.58,235.77 L15.64,236.50 L15.70,237.22 L15.76,237.94 L15.81,238.67 L15.86,239.39 L15.92,240.12 L15.97,240.84 L16.02,241.57 L16.06,242.30 L16.11,243.03 L16.16,243.76 L16.20,244.50 L16.24,245.21 L16.28,245.93 L16.31,246.66 L16.34,247.39 L16.37,248.12 L16.40,248.85 L16.43,249.59 L16.46,250.32 L16.49,251.05 L16.51,251.78 L16.54,252.50 L16.57,253.22 L16.60,253.93 L16.63,254.63 L16.66,255.32 L16.70,256.00 L16.74,256.79 L16.79,257.57 L16.83,258.34 L16.88,259.10 L16.92,259.86 L16.97,260.60 L17.02,261.34 L17.07,262.08 L17.12,262.81 L17.18,263.54 L17.24,264.27 L17.30,265.00 L17.37,265.75 L17.44,266.49 L17.52,267.22 L17.59,267.96 L17.67,268.68 L17.76,269.41 L17.84,270.13 L17.93,270.85 L18.02,271.57 L18.11,272.28 L18.20,273.00 L18.30,273.77 L18.40,274.54 L18.51,275.31 L18.61,276.08 L18.72,276.84 L18.84,277.60 L18.95,278.35 L19.06,279.08 L19.18,279.80 L19.30,280.50 L19.43,281.22 L19.56,281.92 L19.70,282.59 L19.83,283.25 L19.97,283.91 L20.11,284.58 L20.25,285.27 L20.40,286.00 L20.53,286.65 L20.65,287.33 L20.78,288.02 L20.91,288.72 L21.04,289.44 L21.18,290.16 L21.32,290.88 L21.46,291.60 L21.60,292.31 L21.75,293.01 L21.90,293.70 L22.06,294.41 L22.23,295.12 L22.40,295.83 L22.57,296.53 L22.75,297.23 L22.93,297.92 L23.11,298.60 L23.30,299.28 L23.50,299.95 L23.70,300.60 L23.94,301.34 L24.19,302.08 L24.45,302.81 L24.71,303.53 L24.98,304.23 L25.26,304.92 L25.53,305.57 L25.80,306.20 L26.13,306.99 L26.45,307.75 L26.77,308.46 L27.15,309.12 L27.60,309.70 L28.23,310.27 L28.94,310.73 L29.73,311.13 L30.60,311.50 L31.24,311.73 L31.93,311.94 L32.67,312.12 L33.44,312.29 L34.24,312.44 L35.05,312.60 L35.87,312.75 L36.70,312.90 L37.35,313.02 L38.02,313.14 L38.70,313.25 L39.40,313.36 L40.10,313.47 L40.81,313.57 L41.53,313.68 L42.24,313.78 L42.94,313.88 L43.64,313.99 L44.33,314.09 L45.00,314.20 L45.72,314.32 L46.44,314.45 L47.14,314.57 L47.84,314.70 L48.54,314.82 L49.23,314.95 L49.92,315.07 L50.61,315.19 L51.30,315.30 L52.00,315.40 L52.70,315.50 L53.40,315.59 L54.10,315.68 L54.79,315.76 L55.49,315.84 L56.19,315.92 L56.89,315.99 L57.60,316.07 L58.30,316.13 L59.00,316.20 L59.73,316.27 L60.49,316.34 L61.28,316.42 L62.07,316.49 L62.85,316.56 L63.61,316.62 L64.33,316.67 L64.99,316.70 L65.59,316.71 L66.10,316.70 L67.00,316.64 L67.80,316.40 L68.33,316.13 L68.90,315.75 L69.51,315.31 L70.12,314.81 L70.72,314.30 L71.30,313.80 L71.88,313.26 L72.45,312.69 L73.01,312.09 L73.57,311.49 L74.13,310.89 L74.70,310.30 L75.28,309.73 L75.87,309.15 L76.47,308.58 L77.06,308.02 L77.64,307.46 L78.20,306.90 L78.78,306.29 L79.33,305.68 L79.88,305.08 L80.46,304.49 L81.10,303.90 L81.64,303.46 L82.22,303.01 L82.83,302.57 L83.46,302.13 L84.11,301.70 L84.75,301.28 L85.38,300.88 L86.00,300.50 L86.72,300.08 L87.44,299.69 L88.16,299.32 L88.87,298.96 L89.58,298.59 L90.30,298.20 L90.94,297.84 L91.59,297.47 L92.25,297.10 L92.90,296.72 L93.54,296.34 L94.14,295.97 L94.70,295.60 L95.42,295.02 L96.07,294.39 L96.69,293.87 L97.30,293.60 L98.15,293.90 L99.00,294.20 L99.61,293.94 L100.23,293.43 L100.89,292.78 L101.60,292.10 L102.05,291.68 L102.53,291.20 L103.03,290.69 L103.55,290.14 L104.08,289.58 L104.62,289.01 L105.16,288.45 L105.71,287.90 L106.26,287.38 L106.80,286.90 L107.36,286.43 L107.93,285.97 L108.51,285.53 L109.09,285.11 L109.67,284.69 L110.26,284.28 L110.84,283.88 L111.42,283.49 L112.00,283.10 L112.60,282.70 L113.18,282.32 L113.75,281.96 L114.33,281.60 L114.92,281.24 L115.54,280.87 L116.19,280.50 L116.90,280.10 L117.44,279.80 L118.01,279.49 L118.61,279.16 L119.23,278.82 L119.87,278.48 L120.53,278.12 L121.20,277.77 L121.89,277.42 L122.57,277.07 L123.27,276.72 L123.96,276.38 L124.65,276.06 L125.33,275.74 L126.00,275.44 L126.66,275.16 L127.30,274.90 L128.04,274.61 L128.78,274.35 L129.50,274.10 L130.23,273.86 L130.95,273.64 L131.67,273.43 L132.39,273.23 L133.11,273.03 L133.83,272.84 L134.55,272.66 L135.27,272.48 L136.00,272.30 L136.72,272.13 L137.43,271.96 L138.13,271.81 L138.84,271.66 L139.54,271.52 L140.25,271.38 L140.97,271.25 L141.69,271.12 L142.42,270.99 L143.16,270.86 L143.92,270.73 L144.70,270.60 L145.36,270.49 L146.03,270.38 L146.71,270.28 L147.40,270.17 L148.09,270.07 L148.80,269.96 L149.51,269.86 L150.23,269.76 L150.95,269.66 L151.68,269.56 L152.41,269.46 L153.14,269.36 L153.87,269.27 L154.61,269.17 L155.34,269.08 L156.07,268.99 L156.80,268.90 L157.52,268.81 L158.24,268.73 L158.96,268.64 L159.68,268.56 L160.40,268.48 L161.12,268.40 L161.85,268.32 L162.58,268.24 L163.31,268.16 L164.04,268.08 L164.78,268.01 L165.51,267.93 L166.25,267.86 L167.00,267.79 L167.74,267.71 L168.49,267.64 L169.24,267.57 L170.00,267.50 L170.69,267.44 L171.39,267.37 L172.09,267.31 L172.80,267.24 L173.50,267.18 L174.21,267.12 L174.93,267.06 L175.64,266.99 L176.36,266.93 L177.08,266.87 L177.80,266.81 L178.52,266.76 L179.24,266.70 L179.96,266.64 L180.68,266.59 L181.41,266.54 L182.13,266.49 L182.85,266.44 L183.57,266.39 L184.28,266.34 L185.00,266.30 L185.71,266.26 L186.42,266.22 L187.12,266.18 L187.82,266.14 L188.52,266.11 L189.22,266.08 L189.92,266.04 L190.62,266.01 L191.31,265.98 L192.01,265.96 L192.71,265.93 L193.42,265.90 L194.13,265.88 L194.84,265.85 L195.56,265.83 L196.28,265.81 L197.01,265.79 L197.74,265.76 L198.49,265.74 L199.24,265.72 L200.00,265.70 L200.67,265.68 L201.34,265.67 L202.02,265.65 L202.71,265.63 L203.40,265.62 L204.10,265.60 L204.80,265.59 L205.51,265.58 L206.22,265.57 L206.94,265.55 L207.66,265.54 L208.38,265.53 L209.11,265.52 L209.84,265.51 L210.56,265.50 L211.30,265.49 L212.03,265.48 L212.76,265.48 L213.49,265.47 L214.22,265.46 L214.95,265.45 L215.68,265.44 L216.41,265.44 L217.13,265.43 L217.85,265.42 L218.57,265.41 L219.29,265.41 L220.00,265.40 L220.74,265.39 L221.51,265.38 L222.29,265.36 L223.10,265.34 L223.92,265.32 L224.76,265.29 L225.60,265.27 L226.46,265.24 L227.31,265.22 L228.16,265.19 L229.01,265.17 L229.86,265.14 L230.69,265.12 L231.51,265.10 L232.31,265.08 L233.10,265.07 L233.86,265.06 L234.59,265.06 L235.30,265.06 L235.97,265.06 L236.61,265.07 L237.21,265.09 L237.76,265.12 L238.27,265.15 L238.73,265.19 L239.14,265.24 L239.50,265.30 L240.47,265.77 L241.20,266.00 L241.65,265.74 L242.10,265.24 L242.56,264.58 L243.04,263.88 L243.55,263.22 L244.10,262.70 L244.69,262.31 L245.30,261.97 L245.95,261.68 L246.63,261.42 L247.35,261.20 L248.10,261.00 L248.76,260.86 L249.44,260.76 L250.15,260.69 L250.88,260.64 L251.64,260.60 L252.43,260.58 L253.25,260.56 L254.11,260.53 L255.00,260.50 L255.59,260.48 L256.22,260.46 L256.88,260.44 L257.56,260.42 L258.26,260.41 L258.98,260.40 L259.72,260.39 L260.48,260.38 L261.24,260.37 L262.01,260.37 L262.78,260.36 L263.55,260.36 L264.32,260.35 L265.09,260.35 L265.84,260.34 L266.58,260.34 L267.31,260.33 L268.02,260.33 L268.71,260.32 L269.37,260.31 L270.00,260.30 L270.82,260.26 L271.65,260.19 L272.46,260.10 L273.27,259.99 L274.06,259.88 L274.82,259.79 L275.57,259.71 L276.28,259.68 L276.95,259.68 L277.58,259.75 L278.17,259.88 L278.70,260.10 L279.27,260.46 L279.77,260.90 L280.21,261.42 L280.60,262.00 L280.95,262.64 L281.28,263.33 L281.59,264.05 L281.90,264.80 L282.11,265.35 L282.29,265.93 L282.46,266.55 L282.62,267.20 L282.76,267.88 L282.89,268.58 L283.01,269.30 L283.12,270.04 L283.23,270.79 L283.33,271.54 L283.43,272.30 L283.53,273.06 L283.64,273.81 L283.74,274.56 L283.85,275.29 L283.97,276.01 L284.10,276.70 L284.24,277.44 L284.39,278.17 L284.54,278.89 L284.68,279.62 L284.83,280.34 L284.98,281.06 L285.13,281.77 L285.27,282.49 L285.42,283.20 L285.57,283.92 L285.72,284.63 L285.87,285.34 L286.01,286.06 L286.16,286.78 L286.30,287.50 L286.44,288.23 L286.57,288.96 L286.71,289.69 L286.83,290.42 L286.96,291.16 L287.08,291.89 L287.21,292.63 L287.34,293.36 L287.47,294.10 L287.60,294.83 L287.75,295.55 L287.89,296.27 L288.05,296.99 L288.22,297.70 L288.40,298.40 L288.59,299.12 L288.79,299.84 L289.00,300.56 L289.21,301.27 L289.43,301.98 L289.65,302.69 L289.88,303.39 L290.12,304.09 L290.37,304.78 L290.62,305.46 L290.88,306.14 L291.14,306.80 L291.42,307.46 L291.70,308.10 L292.02,308.79 L292.35,309.47 L292.69,310.16 L293.04,310.83 L293.41,311.50 L293.77,312.16 L294.15,312.80 L294.52,313.42 L294.90,314.03 L295.27,314.61 L295.64,315.17 L296.00,315.70 L296.45,316.35 L296.88,316.96 L297.29,317.53 L297.73,318.08 L298.19,318.60 L298.71,319.10 L299.30,319.60 L299.80,319.97 L300.33,320.32 L300.89,320.67 L301.49,321.00 L302.11,321.33 L302.76,321.65 L303.42,321.95 L304.10,322.24 L304.79,322.53 L305.49,322.80 L306.19,323.05 L306.90,323.30 L307.55,323.51 L308.22,323.71 L308.90,323.90 L309.59,324.07 L310.29,324.24 L311.00,324.39 L311.73,324.54 L312.46,324.68 L313.19,324.81 L313.93,324.94 L314.68,325.06 L315.43,325.17 L316.19,325.28 L316.94,325.39 L317.70,325.50 L318.39,325.59 L319.11,325.68 L319.83,325.76 L320.57,325.83 L321.31,325.89 L322.06,325.96 L322.82,326.01 L323.58,326.07 L324.33,326.12 L325.09,326.16 L325.84,326.21 L326.57,326.25 L327.30,326.29 L328.02,326.33 L328.72,326.37 L329.40,326.41 L330.06,326.46 L330.70,326.50 L331.54,326.56 L332.35,326.61 L333.13,326.67 L333.89,326.72 L334.63,326.76 L335.36,326.81 L336.08,326.86 L336.81,326.90 L337.55,326.95 L338.30,327.00" fill="none" stroke="#363636" stroke-width="0.7"/>
<circle cx="12.90" cy="208.50" r="0.7" fill="#c03040"/>
<circle cx="25.80" cy="306.20" r="0.7" fill="#1a9a8a"/>
<circle cx="66.10" cy="316.70" r="0.7" fill="#1a9a8a"/>
<circle cx="74.70" cy="310.30" r="0.7" fill="#c03040"/>
<circle cx="81.10" cy="303.90" r="0.7" fill="#1a9a8a"/>
<circle cx="86.00" cy="300.50" r="0.7" fill="#c03040"/>
<circle cx="97.30" cy="293.60" r="0.7" fill="#111"/>
<circle cx="239.50" cy="265.30" r="0.7" fill="#1a9a8a"/>
<circle cx="278.70" cy="260.10" r="0.7" fill="#1a9a8a"/>
<circle cx="299.30" cy="319.60" r="0.7" fill="#c03040"/>
<circle cx="338.30" cy="327.00" r="0.7" fill="#1a9a8a"/>
<text x="21.00" y="253.78" font-size="3.0" text-anchor="start" fill="#454545">? Step</text>
<text x="33.00" y="253.78" font-size="3.0" text-anchor="start" fill="#454545">-6.665  %</text>
<text x="33.00" y="257.68" font-size="3.0" text-anchor="start" fill="#454545">-2.660 mg</text>
<text x="34.00" y="307.48" font-size="3.0" text-anchor="start" fill="#454545">? Step</text>
<text x="46.60" y="307.48" font-size="3.0" text-anchor="start" fill="#454545">-5.4867  %</text>
<text x="46.60" y="311.38" font-size="3.0" text-anchor="start" fill="#454545">-2.474 mg</text>
<text x="79.40" y="311.78" font-size="3.0" text-anchor="start" fill="#454545">? Step</text>
<text x="90.30" y="311.78" font-size="3.0" text-anchor="start" fill="#454545">5.782  %</text>
<text x="90.30" y="315.68" font-size="3.0" text-anchor="start" fill="#454545">0.2160 mg</text>
<text x="91.50" y="300.88" font-size="3.0" text-anchor="start" fill="#454545">? Step</text>
<text x="102.50" y="300.88" font-size="3.0" text-anchor="start" fill="#454545">6.6277  %</text>
<text x="102.50" y="304.78" font-size="3.0" text-anchor="start" fill="#454545">0.2322 mg</text>
<text x="125.50" y="282.78" font-size="3.0" text-anchor="start" fill="#454545">? Step</text>
<text x="136.00" y="282.78" font-size="3.0" text-anchor="start" fill="#454545">1.7395  %</text>
<text x="136.00" y="286.68" font-size="3.0" text-anchor="start" fill="#454545">0.6963 mg</text>
<text x="250.40" y="266.48" font-size="3.0" text-anchor="start" fill="#454545">? Step</text>
<text x="262.00" y="266.48" font-size="3.0" text-anchor="start" fill="#454545">0.3189  %</text>
<text x="262.00" y="270.38" font-size="3.0" text-anchor="start" fill="#454545">0.1276 mg</text>
<text x="292.80" y="295.08" font-size="3.0" text-anchor="start" fill="#454545">? Step</text>
<text x="304.70" y="295.08" font-size="3.0" text-anchor="start" fill="#454545">-4.0361  %</text>
<text x="304.70" y="298.98" font-size="3.0" text-anchor="start" fill="#454545">-14.684 mg</text>
<text x="173.90" y="359.90" font-size="7.4" text-anchor="middle" fill="#111" font-weight="bold" style="font-family:'Liberation Serif',serif">(b)</text>
<line x1="6.10" y1="369.30" x2="342.50" y2="369.30" stroke="#8a8a8a" stroke-width="0.8"/>
<line x1="6.10" y1="369.30" x2="6.10" y2="535.70" stroke="#8a8a8a" stroke-width="0.8"/>
<line x1="342.50" y1="369.30" x2="342.50" y2="535.70" stroke="#8a8a8a" stroke-width="0.8"/>
<line x1="6.10" y1="535.70" x2="342.50" y2="535.70" stroke="#8a8a8a" stroke-width="0.8"/>
<line x1="13.50" y1="372.80" x2="13.50" y2="530.10" stroke="#6e6e6e" stroke-width="0.75"/>
<line x1="13.50" y1="530.10" x2="341.00" y2="530.10" stroke="#5a5a5a" stroke-width="0.7"/>
<line x1="12.60" y1="382.90" x2="14.20" y2="382.90" stroke="#333" stroke-width="0.7"/>
<text x="12.20" y="384.34" font-size="2.9" text-anchor="end" fill="#4a4a4a">40.6</text>
<line x1="12.60" y1="391.60" x2="14.20" y2="391.60" stroke="#333" stroke-width="0.7"/>
<text x="12.20" y="393.04" font-size="2.9" text-anchor="end" fill="#4a4a4a">40.4</text>
<line x1="12.60" y1="400.30" x2="14.20" y2="400.30" stroke="#333" stroke-width="0.7"/>
<text x="12.20" y="401.74" font-size="2.9" text-anchor="end" fill="#4a4a4a">40.2</text>
<line x1="12.60" y1="409.00" x2="14.20" y2="409.00" stroke="#333" stroke-width="0.7"/>
<text x="12.20" y="410.44" font-size="2.9" text-anchor="end" fill="#4a4a4a">40.0</text>
<line x1="12.60" y1="417.70" x2="14.20" y2="417.70" stroke="#333" stroke-width="0.7"/>
<text x="12.20" y="419.14" font-size="2.9" text-anchor="end" fill="#4a4a4a">39.8</text>
<line x1="12.60" y1="426.40" x2="14.20" y2="426.40" stroke="#333" stroke-width="0.7"/>
<text x="12.20" y="427.84" font-size="2.9" text-anchor="end" fill="#4a4a4a">39.6</text>
<line x1="12.60" y1="435.10" x2="14.20" y2="435.10" stroke="#333" stroke-width="0.7"/>
<text x="12.20" y="436.54" font-size="2.9" text-anchor="end" fill="#4a4a4a">39.4</text>
<line x1="12.60" y1="443.80" x2="14.20" y2="443.80" stroke="#333" stroke-width="0.7"/>
<text x="12.20" y="445.24" font-size="2.9" text-anchor="end" fill="#4a4a4a">39.2</text>
<line x1="12.60" y1="452.50" x2="14.20" y2="452.50" stroke="#333" stroke-width="0.7"/>
<text x="12.20" y="453.94" font-size="2.9" text-anchor="end" fill="#4a4a4a">39.0</text>
<line x1="12.60" y1="461.20" x2="14.20" y2="461.20" stroke="#333" stroke-width="0.7"/>
<text x="12.20" y="462.64" font-size="2.9" text-anchor="end" fill="#4a4a4a">38.8</text>
<line x1="12.60" y1="469.90" x2="14.20" y2="469.90" stroke="#333" stroke-width="0.7"/>
<text x="12.20" y="471.34" font-size="2.9" text-anchor="end" fill="#4a4a4a">38.6</text>
<line x1="12.60" y1="478.60" x2="14.20" y2="478.60" stroke="#333" stroke-width="0.7"/>
<text x="12.20" y="480.04" font-size="2.9" text-anchor="end" fill="#4a4a4a">38.4</text>
<line x1="12.60" y1="487.30" x2="14.20" y2="487.30" stroke="#333" stroke-width="0.7"/>
<text x="12.20" y="488.74" font-size="2.9" text-anchor="end" fill="#4a4a4a">38.2</text>
<line x1="12.60" y1="496.00" x2="14.20" y2="496.00" stroke="#333" stroke-width="0.7"/>
<text x="12.20" y="497.44" font-size="2.9" text-anchor="end" fill="#4a4a4a">38.0</text>
<line x1="12.60" y1="504.70" x2="14.20" y2="504.70" stroke="#333" stroke-width="0.7"/>
<text x="12.20" y="506.14" font-size="2.9" text-anchor="end" fill="#4a4a4a">37.8</text>
<line x1="12.60" y1="513.40" x2="14.20" y2="513.40" stroke="#333" stroke-width="0.7"/>
<text x="12.20" y="514.84" font-size="2.9" text-anchor="end" fill="#4a4a4a">37.6</text>
<line x1="12.60" y1="522.10" x2="14.20" y2="522.10" stroke="#333" stroke-width="0.7"/>
<text x="12.20" y="523.54" font-size="2.9" text-anchor="end" fill="#4a4a4a">37.4</text>
<line x1="13.00" y1="387.25" x2="14.00" y2="387.25" stroke="#666" stroke-width="0.5"/>
<line x1="13.00" y1="395.95" x2="14.00" y2="395.95" stroke="#666" stroke-width="0.5"/>
<line x1="13.00" y1="404.65" x2="14.00" y2="404.65" stroke="#666" stroke-width="0.5"/>
<line x1="13.00" y1="413.35" x2="14.00" y2="413.35" stroke="#666" stroke-width="0.5"/>
<line x1="13.00" y1="422.05" x2="14.00" y2="422.05" stroke="#666" stroke-width="0.5"/>
<line x1="13.00" y1="430.75" x2="14.00" y2="430.75" stroke="#666" stroke-width="0.5"/>
<line x1="13.00" y1="439.45" x2="14.00" y2="439.45" stroke="#666" stroke-width="0.5"/>
<line x1="13.00" y1="448.15" x2="14.00" y2="448.15" stroke="#666" stroke-width="0.5"/>
<line x1="13.00" y1="456.85" x2="14.00" y2="456.85" stroke="#666" stroke-width="0.5"/>
<line x1="13.00" y1="465.55" x2="14.00" y2="465.55" stroke="#666" stroke-width="0.5"/>
<line x1="13.00" y1="474.25" x2="14.00" y2="474.25" stroke="#666" stroke-width="0.5"/>
<line x1="13.00" y1="482.95" x2="14.00" y2="482.95" stroke="#666" stroke-width="0.5"/>
<line x1="13.00" y1="491.65" x2="14.00" y2="491.65" stroke="#666" stroke-width="0.5"/>
<line x1="13.00" y1="500.35" x2="14.00" y2="500.35" stroke="#666" stroke-width="0.5"/>
<line x1="13.00" y1="509.05" x2="14.00" y2="509.05" stroke="#666" stroke-width="0.5"/>
<line x1="13.00" y1="517.75" x2="14.00" y2="517.75" stroke="#666" stroke-width="0.5"/>
<line x1="13.60" y1="530.10" x2="13.60" y2="531.50" stroke="#333" stroke-width="0.6"/>
<text x="13.60" y="535.54" font-size="2.9" text-anchor="middle" fill="#4a4a4a">0</text>
<line x1="16.21" y1="530.10" x2="16.21" y2="531.20" stroke="#333" stroke-width="0.6"/>
<line x1="18.82" y1="530.10" x2="18.82" y2="531.20" stroke="#333" stroke-width="0.6"/>
<line x1="21.44" y1="530.10" x2="21.44" y2="531.20" stroke="#333" stroke-width="0.6"/>
<line x1="24.05" y1="530.10" x2="24.05" y2="531.20" stroke="#333" stroke-width="0.6"/>
<line x1="26.66" y1="530.10" x2="26.66" y2="531.50" stroke="#333" stroke-width="0.6"/>
<text x="26.66" y="535.54" font-size="2.9" text-anchor="middle" fill="#4a4a4a">10</text>
<line x1="29.27" y1="530.10" x2="29.27" y2="531.20" stroke="#333" stroke-width="0.6"/>
<line x1="31.88" y1="530.10" x2="31.88" y2="531.20" stroke="#333" stroke-width="0.6"/>
<line x1="34.50" y1="530.10" x2="34.50" y2="531.20" stroke="#333" stroke-width="0.6"/>
<line x1="37.11" y1="530.10" x2="37.11" y2="531.20" stroke="#333" stroke-width="0.6"/>
<line x1="39.72" y1="530.10" x2="39.72" y2="531.50" stroke="#333" stroke-width="0.6"/>
<text x="39.72" y="535.54" font-size="2.9" text-anchor="middle" fill="#4a4a4a">20</text>
<line x1="42.33" y1="530.10" x2="42.33" y2="531.20" stroke="#333" stroke-width="0.6"/>
<line x1="44.94" y1="530.10" x2="44.94" y2="531.20" stroke="#333" stroke-width="0.6"/>
<line x1="47.56" y1="530.10" x2="47.56" y2="531.20" stroke="#333" stroke-width="0.6"/>
<line x1="50.17" y1="530.10" x2="50.17" y2="531.20" stroke="#333" stroke-width="0.6"/>
<line x1="52.78" y1="530.10" x2="52.78" y2="531.50" stroke="#333" stroke-width="0.6"/>
<text x="52.78" y="535.54" font-size="2.9" text-anchor="middle" fill="#4a4a4a">30</text>
<line x1="55.39" y1="530.10" x2="55.39" y2="531.20" stroke="#333" stroke-width="0.6"/>
<line x1="58.00" y1="530.10" x2="58.00" y2="531.20" stroke="#333" stroke-width="0.6"/>
<line x1="60.62" y1="530.10" x2="60.62" y2="531.20" stroke="#333" stroke-width="0.6"/>
<line x1="63.23" y1="530.10" x2="63.23" y2="531.20" stroke="#333" stroke-width="0.6"/>
<line x1="65.84" y1="530.10" x2="65.84" y2="531.50" stroke="#333" stroke-width="0.6"/>
<text x="65.84" y="535.54" font-size="2.9" text-anchor="middle" fill="#4a4a4a">40</text>
<line x1="68.45" y1="530.10" x2="68.45" y2="531.20" stroke="#333" stroke-width="0.6"/>
<line x1="71.06" y1="530.10" x2="71.06" y2="531.20" stroke="#333" stroke-width="0.6"/>
<line x1="73.68" y1="530.10" x2="73.68" y2="531.20" stroke="#333" stroke-width="0.6"/>
<line x1="76.29" y1="530.10" x2="76.29" y2="531.20" stroke="#333" stroke-width="0.6"/>
<line x1="78.90" y1="530.10" x2="78.90" y2="531.50" stroke="#333" stroke-width="0.6"/>
<text x="78.90" y="535.54" font-size="2.9" text-anchor="middle" fill="#4a4a4a">50</text>
<line x1="81.51" y1="530.10" x2="81.51" y2="531.20" stroke="#333" stroke-width="0.6"/>
<line x1="84.12" y1="530.10" x2="84.12" y2="531.20" stroke="#333" stroke-width="0.6"/>
<line x1="86.74" y1="530.10" x2="86.74" y2="531.20" stroke="#333" stroke-width="0.6"/>
<line x1="89.35" y1="530.10" x2="89.35" y2="531.20" stroke="#333" stroke-width="0.6"/>
<line x1="91.96" y1="530.10" x2="91.96" y2="531.50" stroke="#333" stroke-width="0.6"/>
<text x="91.96" y="535.54" font-size="2.9" text-anchor="middle" fill="#4a4a4a">60</text>
<line x1="94.57" y1="530.10" x2="94.57" y2="531.20" stroke="#333" stroke-width="0.6"/>
<line x1="97.18" y1="530.10" x2="97.18" y2="531.20" stroke="#333" stroke-width="0.6"/>
<line x1="99.80" y1="530.10" x2="99.80" y2="531.20" stroke="#333" stroke-width="0.6"/>
<line x1="102.41" y1="530.10" x2="102.41" y2="531.20" stroke="#333" stroke-width="0.6"/>
<line x1="105.02" y1="530.10" x2="105.02" y2="531.50" stroke="#333" stroke-width="0.6"/>
<text x="105.02" y="535.54" font-size="2.9" text-anchor="middle" fill="#4a4a4a">70</text>
<line x1="107.63" y1="530.10" x2="107.63" y2="531.20" stroke="#333" stroke-width="0.6"/>
<line x1="110.24" y1="530.10" x2="110.24" y2="531.20" stroke="#333" stroke-width="0.6"/>
<line x1="112.86" y1="530.10" x2="112.86" y2="531.20" stroke="#333" stroke-width="0.6"/>
<line x1="115.47" y1="530.10" x2="115.47" y2="531.20" stroke="#333" stroke-width="0.6"/>
<line x1="118.08" y1="530.10" x2="118.08" y2="531.50" stroke="#333" stroke-width="0.6"/>
<text x="118.08" y="535.54" font-size="2.9" text-anchor="middle" fill="#4a4a4a">80</text>
<line x1="120.69" y1="530.10" x2="120.69" y2="531.20" stroke="#333" stroke-width="0.6"/>
<line x1="123.30" y1="530.10" x2="123.30" y2="531.20" stroke="#333" stroke-width="0.6"/>
<line x1="125.92" y1="530.10" x2="125.92" y2="531.20" stroke="#333" stroke-width="0.6"/>
<line x1="128.53" y1="530.10" x2="128.53" y2="531.20" stroke="#333" stroke-width="0.6"/>
<line x1="131.14" y1="530.10" x2="131.14" y2="531.50" stroke="#333" stroke-width="0.6"/>
<text x="131.14" y="535.54" font-size="2.9" text-anchor="middle" fill="#4a4a4a">90</text>
<line x1="133.75" y1="530.10" x2="133.75" y2="531.20" stroke="#333" stroke-width="0.6"/>
<line x1="136.36" y1="530.10" x2="136.36" y2="531.20" stroke="#333" stroke-width="0.6"/>
<line x1="138.98" y1="530.10" x2="138.98" y2="531.20" stroke="#333" stroke-width="0.6"/>
<line x1="141.59" y1="530.10" x2="141.59" y2="531.20" stroke="#333" stroke-width="0.6"/>
<line x1="144.20" y1="530.10" x2="144.20" y2="531.50" stroke="#333" stroke-width="0.6"/>
<text x="144.20" y="535.54" font-size="2.9" text-anchor="middle" fill="#4a4a4a">100</text>
<line x1="146.81" y1="530.10" x2="146.81" y2="531.20" stroke="#333" stroke-width="0.6"/>
<line x1="149.42" y1="530.10" x2="149.42" y2="531.20" stroke="#333" stroke-width="0.6"/>
<line x1="152.04" y1="530.10" x2="152.04" y2="531.20" stroke="#333" stroke-width="0.6"/>
<line x1="154.65" y1="530.10" x2="154.65" y2="531.20" stroke="#333" stroke-width="0.6"/>
<line x1="157.26" y1="530.10" x2="157.26" y2="531.50" stroke="#333" stroke-width="0.6"/>
<text x="157.26" y="535.54" font-size="2.9" text-anchor="middle" fill="#4a4a4a">110</text>
<line x1="159.87" y1="530.10" x2="159.87" y2="531.20" stroke="#333" stroke-width="0.6"/>
<line x1="162.48" y1="530.10" x2="162.48" y2="531.20" stroke="#333" stroke-width="0.6"/>
<line x1="165.10" y1="530.10" x2="165.10" y2="531.20" stroke="#333" stroke-width="0.6"/>
<line x1="167.71" y1="530.10" x2="167.71" y2="531.20" stroke="#333" stroke-width="0.6"/>
<line x1="170.32" y1="530.10" x2="170.32" y2="531.50" stroke="#333" stroke-width="0.6"/>
<text x="170.32" y="535.54" font-size="2.9" text-anchor="middle" fill="#4a4a4a">120</text>
<line x1="172.93" y1="530.10" x2="172.93" y2="531.20" stroke="#333" stroke-width="0.6"/>
<line x1="175.54" y1="530.10" x2="175.54" y2="531.20" stroke="#333" stroke-width="0.6"/>
<line x1="178.16" y1="530.10" x2="178.16" y2="531.20" stroke="#333" stroke-width="0.6"/>
<line x1="180.77" y1="530.10" x2="180.77" y2="531.20" stroke="#333" stroke-width="0.6"/>
<line x1="183.38" y1="530.10" x2="183.38" y2="531.50" stroke="#333" stroke-width="0.6"/>
<text x="183.38" y="535.54" font-size="2.9" text-anchor="middle" fill="#4a4a4a">130</text>
<line x1="185.99" y1="530.10" x2="185.99" y2="531.20" stroke="#333" stroke-width="0.6"/>
<line x1="188.60" y1="530.10" x2="188.60" y2="531.20" stroke="#333" stroke-width="0.6"/>
<line x1="191.22" y1="530.10" x2="191.22" y2="531.20" stroke="#333" stroke-width="0.6"/>
<line x1="193.83" y1="530.10" x2="193.83" y2="531.20" stroke="#333" stroke-width="0.6"/>
<line x1="196.44" y1="530.10" x2="196.44" y2="531.50" stroke="#333" stroke-width="0.6"/>
<text x="196.44" y="535.54" font-size="2.9" text-anchor="middle" fill="#4a4a4a">140</text>
<line x1="199.05" y1="530.10" x2="199.05" y2="531.20" stroke="#333" stroke-width="0.6"/>
<line x1="201.66" y1="530.10" x2="201.66" y2="531.20" stroke="#333" stroke-width="0.6"/>
<line x1="204.28" y1="530.10" x2="204.28" y2="531.20" stroke="#333" stroke-width="0.6"/>
<line x1="206.89" y1="530.10" x2="206.89" y2="531.20" stroke="#333" stroke-width="0.6"/>
<line x1="209.50" y1="530.10" x2="209.50" y2="531.50" stroke="#333" stroke-width="0.6"/>
<text x="209.50" y="535.54" font-size="2.9" text-anchor="middle" fill="#4a4a4a">150</text>
<line x1="212.11" y1="530.10" x2="212.11" y2="531.20" stroke="#333" stroke-width="0.6"/>
<line x1="214.72" y1="530.10" x2="214.72" y2="531.20" stroke="#333" stroke-width="0.6"/>
<line x1="217.34" y1="530.10" x2="217.34" y2="531.20" stroke="#333" stroke-width="0.6"/>
<line x1="219.95" y1="530.10" x2="219.95" y2="531.20" stroke="#333" stroke-width="0.6"/>
<line x1="222.56" y1="530.10" x2="222.56" y2="531.50" stroke="#333" stroke-width="0.6"/>
<text x="222.56" y="535.54" font-size="2.9" text-anchor="middle" fill="#4a4a4a">160</text>
<line x1="225.17" y1="530.10" x2="225.17" y2="531.20" stroke="#333" stroke-width="0.6"/>
<line x1="227.78" y1="530.10" x2="227.78" y2="531.20" stroke="#333" stroke-width="0.6"/>
<line x1="230.40" y1="530.10" x2="230.40" y2="531.20" stroke="#333" stroke-width="0.6"/>
<line x1="233.01" y1="530.10" x2="233.01" y2="531.20" stroke="#333" stroke-width="0.6"/>
<line x1="235.62" y1="530.10" x2="235.62" y2="531.50" stroke="#333" stroke-width="0.6"/>
<text x="235.62" y="535.54" font-size="2.9" text-anchor="middle" fill="#4a4a4a">170</text>
<line x1="238.23" y1="530.10" x2="238.23" y2="531.20" stroke="#333" stroke-width="0.6"/>
<line x1="240.84" y1="530.10" x2="240.84" y2="531.20" stroke="#333" stroke-width="0.6"/>
<line x1="243.46" y1="530.10" x2="243.46" y2="531.20" stroke="#333" stroke-width="0.6"/>
<line x1="246.07" y1="530.10" x2="246.07" y2="531.20" stroke="#333" stroke-width="0.6"/>
<line x1="248.68" y1="530.10" x2="248.68" y2="531.50" stroke="#333" stroke-width="0.6"/>
<text x="248.68" y="535.54" font-size="2.9" text-anchor="middle" fill="#4a4a4a">180</text>
<line x1="251.29" y1="530.10" x2="251.29" y2="531.20" stroke="#333" stroke-width="0.6"/>
<line x1="253.90" y1="530.10" x2="253.90" y2="531.20" stroke="#333" stroke-width="0.6"/>
<line x1="256.52" y1="530.10" x2="256.52" y2="531.20" stroke="#333" stroke-width="0.6"/>
<line x1="259.13" y1="530.10" x2="259.13" y2="531.20" stroke="#333" stroke-width="0.6"/>
<line x1="261.74" y1="530.10" x2="261.74" y2="531.50" stroke="#333" stroke-width="0.6"/>
<text x="261.74" y="535.54" font-size="2.9" text-anchor="middle" fill="#4a4a4a">190</text>
<line x1="264.35" y1="530.10" x2="264.35" y2="531.20" stroke="#333" stroke-width="0.6"/>
<line x1="266.96" y1="530.10" x2="266.96" y2="531.20" stroke="#333" stroke-width="0.6"/>
<line x1="269.58" y1="530.10" x2="269.58" y2="531.20" stroke="#333" stroke-width="0.6"/>
<line x1="272.19" y1="530.10" x2="272.19" y2="531.20" stroke="#333" stroke-width="0.6"/>
<line x1="274.80" y1="530.10" x2="274.80" y2="531.50" stroke="#333" stroke-width="0.6"/>
<text x="274.80" y="535.54" font-size="2.9" text-anchor="middle" fill="#4a4a4a">200</text>
<line x1="277.41" y1="530.10" x2="277.41" y2="531.20" stroke="#333" stroke-width="0.6"/>
<line x1="280.02" y1="530.10" x2="280.02" y2="531.20" stroke="#333" stroke-width="0.6"/>
<line x1="282.64" y1="530.10" x2="282.64" y2="531.20" stroke="#333" stroke-width="0.6"/>
<line x1="285.25" y1="530.10" x2="285.25" y2="531.20" stroke="#333" stroke-width="0.6"/>
<line x1="287.86" y1="530.10" x2="287.86" y2="531.50" stroke="#333" stroke-width="0.6"/>
<text x="287.86" y="535.54" font-size="2.9" text-anchor="middle" fill="#4a4a4a">210</text>
<line x1="290.47" y1="530.10" x2="290.47" y2="531.20" stroke="#333" stroke-width="0.6"/>
<line x1="293.08" y1="530.10" x2="293.08" y2="531.20" stroke="#333" stroke-width="0.6"/>
<line x1="295.70" y1="530.10" x2="295.70" y2="531.20" stroke="#333" stroke-width="0.6"/>
<line x1="298.31" y1="530.10" x2="298.31" y2="531.20" stroke="#333" stroke-width="0.6"/>
<line x1="300.92" y1="530.10" x2="300.92" y2="531.50" stroke="#333" stroke-width="0.6"/>
<text x="300.92" y="535.54" font-size="2.9" text-anchor="middle" fill="#4a4a4a">220</text>
<line x1="303.53" y1="530.10" x2="303.53" y2="531.20" stroke="#333" stroke-width="0.6"/>
<line x1="306.14" y1="530.10" x2="306.14" y2="531.20" stroke="#333" stroke-width="0.6"/>
<line x1="308.76" y1="530.10" x2="308.76" y2="531.20" stroke="#333" stroke-width="0.6"/>
<line x1="311.37" y1="530.10" x2="311.37" y2="531.20" stroke="#333" stroke-width="0.6"/>
<line x1="313.98" y1="530.10" x2="313.98" y2="531.50" stroke="#333" stroke-width="0.6"/>
<text x="313.98" y="535.54" font-size="2.9" text-anchor="middle" fill="#4a4a4a">230</text>
<line x1="316.59" y1="530.10" x2="316.59" y2="531.20" stroke="#333" stroke-width="0.6"/>
<line x1="319.20" y1="530.10" x2="319.20" y2="531.20" stroke="#333" stroke-width="0.6"/>
<line x1="321.82" y1="530.10" x2="321.82" y2="531.20" stroke="#333" stroke-width="0.6"/>
<line x1="324.43" y1="530.10" x2="324.43" y2="531.20" stroke="#333" stroke-width="0.6"/>
<line x1="327.04" y1="530.10" x2="327.04" y2="531.50" stroke="#333" stroke-width="0.6"/>
<text x="327.04" y="535.54" font-size="2.9" text-anchor="middle" fill="#4a4a4a">240</text>
<line x1="329.65" y1="530.10" x2="329.65" y2="531.20" stroke="#333" stroke-width="0.6"/>
<line x1="332.26" y1="530.10" x2="332.26" y2="531.20" stroke="#333" stroke-width="0.6"/>
<line x1="334.88" y1="530.10" x2="334.88" y2="531.20" stroke="#333" stroke-width="0.6"/>
<line x1="337.49" y1="530.10" x2="337.49" y2="531.20" stroke="#333" stroke-width="0.6"/>
<line x1="340.10" y1="530.10" x2="340.10" y2="531.50" stroke="#333" stroke-width="0.6"/>
<text x="337.40" y="535.54" font-size="2.9" text-anchor="middle" fill="#4a4a4a">min</text>
<text x="8.20" y="376.44" font-size="2.9" text-anchor="start" fill="#4a4a4a">mg</text>
<text x="16.10" y="527.54" font-size="2.9" text-anchor="middle" fill="#4a4a4a">50</text>
<text x="22.20" y="527.54" font-size="2.9" text-anchor="middle" fill="#4a4a4a">100</text>
<text x="29.50" y="527.54" font-size="2.9" text-anchor="middle" fill="#4a4a4a">150</text>
<text x="49.70" y="527.54" font-size="2.9" text-anchor="middle" fill="#4a4a4a">150</text>
<text x="69.40" y="527.54" font-size="2.9" text-anchor="middle" fill="#4a4a4a">150</text>
<text x="75.40" y="527.54" font-size="2.9" text-anchor="middle" fill="#4a4a4a">100</text>
<text x="82.10" y="527.54" font-size="2.9" text-anchor="middle" fill="#4a4a4a">50</text>
<text x="163.30" y="527.54" font-size="2.9" text-anchor="middle" fill="#4a4a4a">30</text>
<text x="261.50" y="527.54" font-size="2.9" text-anchor="middle" fill="#4a4a4a">30</text>
<text x="289.70" y="527.54" font-size="2.9" text-anchor="middle" fill="#4a4a4a">100</text>
<text x="319.30" y="527.54" font-size="2.9" text-anchor="middle" fill="#4a4a4a">100</text>
<text x="338.10" y="527.54" font-size="2.9" text-anchor="middle" fill="#4a4a4a">°C</text>
<polyline points="13.50,385.50 21.60,385.50" fill="none" stroke="#6e6e6e" stroke-width="0.7"/>
<polyline points="20.60,385.50 20.60,495.30" fill="none" stroke="#6e6e6e" stroke-width="0.7"/>
<polyline points="19.00,495.30 36.80,495.30" fill="none" stroke="#6e6e6e" stroke-width="0.7"/>
<polyline points="35.50,493.40 35.50,503.20" fill="none" stroke="#6e6e6e" stroke-width="0.7"/>
<polyline points="34.00,503.20 79.60,503.20" fill="none" stroke="#6e6e6e" stroke-width="0.7"/>
<polyline points="77.90,504.00 77.90,485.00" fill="none" stroke="#6e6e6e" stroke-width="0.7"/>
<polyline points="77.20,485.00 91.90,485.00" fill="none" stroke="#6e6e6e" stroke-width="0.7"/>
<polyline points="90.00,485.80 90.00,469.40" fill="none" stroke="#6e6e6e" stroke-width="0.7"/>
<polyline points="89.30,469.40 117.00,469.40" fill="none" stroke="#6e6e6e" stroke-width="0.7"/>
<polyline points="116.30,470.20 116.30,438.60" fill="none" stroke="#6e6e6e" stroke-width="0.7"/>
<polyline points="116.30,438.60 241.00,438.60" fill="none" stroke="#6e6e6e" stroke-width="0.7"/>
<polyline points="245.20,432.60 290.60,432.60" fill="none" stroke="#6e6e6e" stroke-width="0.7"/>
<polyline points="247.20,431.00 247.20,442.00" fill="none" stroke="#6e6e6e" stroke-width="0.7"/>
<polyline points="289.10,432.60 289.10,516.00" fill="none" stroke="#6e6e6e" stroke-width="0.7"/>
<polyline points="289.10,516.00 340.50,516.00" fill="none" stroke="#6e6e6e" stroke-width="0.7"/>
<path d="M13.50,385.50 L13.70,386.17 L13.90,386.85 L14.11,387.52 L14.31,388.20 L14.52,388.87 L14.71,389.54 L14.91,390.22 L15.10,390.90 L15.29,391.57 L15.47,392.22 L15.66,392.87 L15.84,393.52 L16.01,394.19 L16.18,394.89 L16.35,395.62 L16.50,396.40 L16.61,397.02 L16.71,397.66 L16.81,398.34 L16.91,399.04 L17.00,399.75 L17.08,400.49 L17.17,401.24 L17.25,401.99 L17.33,402.76 L17.41,403.53 L17.49,404.29 L17.56,405.06 L17.64,405.82 L17.72,406.57 L17.80,407.30 L17.88,408.03 L17.96,408.75 L18.04,409.48 L18.11,410.21 L18.19,410.93 L18.26,411.66 L18.34,412.39 L18.41,413.11 L18.48,413.84 L18.56,414.57 L18.63,415.29 L18.70,416.02 L18.76,416.75 L18.83,417.47 L18.90,418.20 L18.97,418.93 L19.03,419.65 L19.10,420.38 L19.16,421.11 L19.22,421.83 L19.28,422.56 L19.34,423.29 L19.40,424.01 L19.46,424.74 L19.52,425.47 L19.58,426.19 L19.64,426.92 L19.69,427.65 L19.75,428.37 L19.80,429.10 L19.85,429.83 L19.90,430.57 L19.95,431.31 L20.00,432.05 L20.05,432.80 L20.10,433.54 L20.15,434.28 L20.19,435.02 L20.24,435.76 L20.28,436.49 L20.33,437.21 L20.37,437.93 L20.41,438.63 L20.46,439.32 L20.50,440.00 L20.55,440.78 L20.59,441.54 L20.64,442.29 L20.68,443.02 L20.73,443.75 L20.77,444.47 L20.81,445.18 L20.86,445.89 L20.90,446.60 L20.95,447.30 L21.00,448.00 L21.05,448.72 L21.10,449.43 L21.16,450.14 L21.21,450.84 L21.26,451.53 L21.32,452.22 L21.38,452.92 L21.45,453.61 L21.52,454.30 L21.60,455.00 L21.69,455.70 L21.78,456.40 L21.89,457.10 L21.99,457.79 L22.10,458.49 L22.22,459.19 L22.34,459.88 L22.46,460.59 L22.58,461.29 L22.70,462.00 L22.83,462.74 L22.96,463.48 L23.10,464.23 L23.24,464.98 L23.38,465.74 L23.52,466.49 L23.66,467.24 L23.81,468.00 L23.95,468.75 L24.10,469.50 L24.25,470.25 L24.39,471.00 L24.54,471.76 L24.70,472.51 L24.85,473.27 L25.00,474.02 L25.15,474.77 L25.30,475.52 L25.45,476.26 L25.60,477.00 L25.74,477.71 L25.88,478.42 L26.02,479.14 L26.16,479.84 L26.30,480.55 L26.44,481.25 L26.58,481.95 L26.72,482.64 L26.86,483.32 L27.00,484.00 L27.16,484.78 L27.32,485.55 L27.47,486.31 L27.63,487.07 L27.79,487.82 L27.95,488.56 L28.12,489.29 L28.30,490.00 L28.49,490.74 L28.68,491.48 L28.88,492.22 L29.08,492.93 L29.30,493.63 L29.54,494.28 L29.80,494.90 L30.19,495.73 L30.60,496.50 L31.09,497.19 L31.70,497.80 L32.29,498.20 L32.96,498.53 L33.70,498.82 L34.49,499.06 L35.29,499.29 L36.10,499.50 L36.78,499.66 L37.48,499.80 L38.20,499.91 L38.93,500.01 L39.68,500.10 L40.44,500.19 L41.21,500.29 L42.00,500.40 L42.68,500.50 L43.37,500.61 L44.07,500.73 L44.78,500.84 L45.50,500.96 L46.23,501.07 L46.97,501.18 L47.72,501.30 L48.47,501.40 L49.23,501.50 L50.00,501.60 L50.68,501.68 L51.37,501.75 L52.08,501.82 L52.79,501.89 L53.51,501.96 L54.24,502.02 L54.97,502.08 L55.70,502.14 L56.43,502.20 L57.16,502.26 L57.88,502.32 L58.59,502.38 L59.30,502.44 L60.00,502.50 L60.77,502.58 L61.54,502.68 L62.33,502.79 L63.12,502.90 L63.90,503.02 L64.67,503.13 L65.43,503.22 L66.17,503.30 L66.88,503.35 L67.56,503.37 L68.20,503.36 L68.80,503.30 L69.68,503.14 L70.48,502.92 L71.21,502.63 L71.91,502.26 L72.60,501.80 L73.12,501.38 L73.62,500.88 L74.10,500.33 L74.57,499.73 L75.03,499.11 L75.49,498.47 L75.94,497.83 L76.40,497.20 L76.83,496.60 L77.26,496.00 L77.68,495.38 L78.10,494.75 L78.52,494.11 L78.94,493.47 L79.35,492.82 L79.77,492.16 L80.20,491.50 L80.57,490.91 L80.94,490.31 L81.31,489.71 L81.67,489.09 L82.04,488.47 L82.41,487.85 L82.78,487.23 L83.17,486.62 L83.57,486.00 L83.98,485.40 L84.40,484.80 L84.83,484.23 L85.28,483.66 L85.74,483.10 L86.22,482.53 L86.70,481.97 L87.19,481.41 L87.69,480.85 L88.17,480.31 L88.65,479.77 L89.12,479.23 L89.57,478.71 L90.00,478.20 L90.51,477.57 L91.01,476.94 L91.48,476.32 L91.95,475.72 L92.41,475.13 L92.87,474.56 L93.33,474.02 L93.80,473.50 L94.34,472.94 L94.87,472.40 L95.41,471.89 L95.95,471.42 L96.48,470.98 L97.00,470.60 L97.81,470.18 L98.61,469.86 L99.40,469.40 L99.91,468.95 L100.42,468.42 L100.92,467.82 L101.41,467.20 L101.87,466.58 L102.30,466.00 L102.76,465.29 L103.15,464.59 L103.56,463.90 L104.10,463.20 L104.56,462.73 L105.07,462.26 L105.63,461.79 L106.23,461.32 L106.85,460.84 L107.50,460.37 L108.15,459.89 L108.80,459.40 L109.35,458.98 L109.91,458.56 L110.48,458.13 L111.06,457.70 L111.65,457.26 L112.25,456.83 L112.87,456.39 L113.49,455.96 L114.12,455.54 L114.75,455.11 L115.40,454.70 L116.01,454.32 L116.64,453.94 L117.29,453.55 L117.95,453.17 L118.62,452.79 L119.29,452.42 L119.97,452.05 L120.64,451.68 L121.31,451.33 L121.98,450.98 L122.63,450.64 L123.27,450.31 L123.90,450.00 L124.57,449.67 L125.22,449.35 L125.86,449.05 L126.48,448.75 L127.11,448.47 L127.73,448.19 L128.37,447.92 L129.02,447.65 L129.70,447.37 L130.40,447.10 L131.02,446.87 L131.65,446.63 L132.28,446.40 L132.93,446.17 L133.58,445.94 L134.25,445.71 L134.93,445.49 L135.62,445.27 L136.32,445.05 L137.03,444.83 L137.75,444.62 L138.49,444.41 L139.24,444.20 L140.00,444.00 L140.64,443.84 L141.29,443.67 L141.96,443.51 L142.64,443.35 L143.33,443.19 L144.03,443.03 L144.74,442.87 L145.45,442.72 L146.18,442.57 L146.91,442.42 L147.64,442.27 L148.38,442.13 L149.12,441.99 L149.86,441.85 L150.60,441.71 L151.34,441.58 L152.08,441.46 L152.82,441.34 L153.55,441.22 L154.28,441.11 L155.00,441.00 L155.71,440.90 L156.42,440.80 L157.13,440.71 L157.83,440.62 L158.54,440.54 L159.24,440.46 L159.94,440.39 L160.65,440.32 L161.35,440.25 L162.06,440.18 L162.76,440.12 L163.47,440.06 L164.18,440.00 L164.90,439.95 L165.62,439.89 L166.34,439.84 L167.06,439.79 L167.79,439.74 L168.52,439.70 L169.26,439.65 L170.00,439.60 L170.68,439.56 L171.36,439.52 L172.04,439.48 L172.72,439.44 L173.40,439.41 L174.08,439.38 L174.77,439.35 L175.45,439.32 L176.14,439.29 L176.83,439.27 L177.52,439.24 L178.22,439.22 L178.92,439.20 L179.62,439.18 L180.33,439.16 L181.05,439.14 L181.77,439.12 L182.50,439.11 L183.23,439.09 L183.97,439.07 L184.72,439.06 L185.48,439.04 L186.24,439.03 L187.02,439.01 L187.80,439.00 L188.44,438.99 L189.10,438.98 L189.76,438.97 L190.42,438.96 L191.10,438.95 L191.78,438.94 L192.47,438.94 L193.16,438.93 L193.86,438.93 L194.56,438.92 L195.27,438.92 L195.99,438.91 L196.70,438.91 L197.42,438.91 L198.15,438.90 L198.88,438.90 L199.61,438.90 L200.34,438.90 L201.08,438.90 L201.82,438.90 L202.56,438.90 L203.30,438.90 L204.04,438.90 L204.78,438.90 L205.52,438.90 L206.26,438.90 L207.00,438.90 L207.74,438.90 L208.48,438.90 L209.21,438.90 L209.95,438.90 L210.68,438.90 L211.41,438.90 L212.13,438.90 L212.86,438.90 L213.58,438.90 L214.29,438.90 L215.00,438.90 L215.72,438.90 L216.46,438.89 L217.22,438.88 L218.00,438.87 L218.78,438.86 L219.59,438.84 L220.40,438.82 L221.22,438.80 L222.05,438.78 L222.88,438.76 L223.72,438.74 L224.56,438.71 L225.40,438.69 L226.24,438.67 L227.08,438.65 L227.91,438.62 L228.73,438.60 L229.54,438.59 L230.35,438.57 L231.14,438.55 L231.92,438.54 L232.68,438.53 L233.42,438.53 L234.15,438.52 L234.85,438.52 L235.53,438.53 L236.19,438.53 L236.82,438.55 L237.42,438.56 L237.99,438.58 L238.53,438.61 L239.04,438.64 L239.51,438.68 L239.94,438.73 L240.33,438.78 L240.69,438.84 L241.00,438.90 L242.09,439.50 L242.80,439.80 L243.28,439.06 L243.65,437.89 L244.00,437.30 L244.26,437.70 L244.50,438.62 L244.73,439.71 L244.96,440.62 L245.20,441.00 L245.38,440.78 L245.52,440.21 L245.66,439.40 L245.81,438.46 L246.00,437.51 L246.26,436.65 L246.60,436.00 L247.13,435.44 L247.77,434.99 L248.47,434.62 L249.22,434.30 L250.00,434.00 L250.65,433.78 L251.31,433.59 L251.99,433.44 L252.71,433.31 L253.48,433.20 L254.30,433.10 L255.20,433.00 L255.74,432.95 L256.32,432.90 L256.93,432.87 L257.58,432.83 L258.25,432.81 L258.94,432.78 L259.65,432.77 L260.38,432.75 L261.13,432.74 L261.89,432.73 L262.65,432.73 L263.42,432.72 L264.19,432.72 L264.96,432.72 L265.72,432.72 L266.47,432.72 L267.21,432.72 L267.94,432.72 L268.65,432.71 L269.34,432.71 L270.00,432.70 L270.79,432.68 L271.59,432.63 L272.40,432.57 L273.21,432.49 L274.03,432.41 L274.83,432.34 L275.63,432.26 L276.40,432.21 L277.15,432.16 L277.87,432.14 L278.55,432.15 L279.19,432.20 L279.78,432.29 L280.32,432.42 L280.80,432.60 L281.54,433.03 L282.11,433.55 L282.58,434.17 L282.99,434.92 L283.40,435.80 L283.59,436.27 L283.76,436.78 L283.91,437.34 L284.06,437.94 L284.19,438.57 L284.32,439.25 L284.43,439.95 L284.54,440.67 L284.63,441.43 L284.73,442.20 L284.81,442.99 L284.89,443.79 L284.97,444.60 L285.05,445.41 L285.12,446.23 L285.20,447.05 L285.27,447.86 L285.35,448.67 L285.43,449.46 L285.51,450.24 L285.60,451.00 L285.68,451.70 L285.76,452.41 L285.84,453.12 L285.92,453.83 L285.99,454.55 L286.06,455.27 L286.13,455.99 L286.20,456.71 L286.26,457.44 L286.33,458.17 L286.40,458.90 L286.46,459.63 L286.53,460.36 L286.59,461.09 L286.66,461.83 L286.72,462.56 L286.79,463.29 L286.86,464.03 L286.92,464.76 L287.00,465.49 L287.07,466.22 L287.14,466.95 L287.22,467.68 L287.30,468.40 L287.38,469.12 L287.46,469.85 L287.54,470.58 L287.62,471.32 L287.70,472.05 L287.78,472.79 L287.85,473.53 L287.93,474.27 L288.02,475.01 L288.10,475.75 L288.18,476.48 L288.26,477.22 L288.35,477.95 L288.44,478.68 L288.53,479.41 L288.62,480.13 L288.72,480.85 L288.82,481.56 L288.92,482.27 L289.03,482.97 L289.14,483.66 L289.26,484.35 L289.38,485.03 L289.50,485.70 L289.64,486.44 L289.78,487.17 L289.93,487.91 L290.07,488.64 L290.22,489.37 L290.37,490.09 L290.53,490.81 L290.68,491.52 L290.85,492.23 L291.01,492.92 L291.19,493.61 L291.36,494.29 L291.55,494.96 L291.74,495.61 L291.94,496.26 L292.14,496.89 L292.35,497.51 L292.57,498.11 L292.80,498.70 L293.10,499.43 L293.42,500.15 L293.75,500.86 L294.08,501.55 L294.43,502.22 L294.79,502.87 L295.15,503.50 L295.53,504.11 L295.91,504.69 L296.30,505.26 L296.70,505.79 L297.10,506.30 L297.59,506.87 L298.08,507.41 L298.58,507.90 L299.09,508.36 L299.62,508.80 L300.18,509.21 L300.77,509.61 L301.40,510.00 L301.98,510.33 L302.59,510.63 L303.22,510.93 L303.87,511.20 L304.54,511.46 L305.24,511.71 L305.95,511.95 L306.69,512.18 L307.44,512.39 L308.21,512.60 L309.00,512.80 L309.63,512.95 L310.27,513.08 L310.93,513.21 L311.60,513.33 L312.28,513.43 L312.98,513.54 L313.69,513.63 L314.41,513.72 L315.14,513.80 L315.88,513.89 L316.62,513.96 L317.37,514.04 L318.13,514.11 L318.90,514.19 L319.67,514.26 L320.44,514.34 L321.22,514.42 L322.00,514.50 L322.66,514.57 L323.33,514.64 L324.00,514.70 L324.69,514.77 L325.38,514.83 L326.08,514.90 L326.78,514.96 L327.49,515.02 L328.20,515.08 L328.92,515.14 L329.64,515.20 L330.36,515.25 L331.09,515.31 L331.81,515.37 L332.54,515.43 L333.27,515.48 L334.01,515.54 L334.74,515.59 L335.47,515.65 L336.19,515.71 L336.92,515.77 L337.65,515.82 L338.37,515.88 L339.09,515.94 L339.80,516.00" fill="none" stroke="#363636" stroke-width="0.7"/>
<circle cx="16.50" cy="396.40" r="0.7" fill="#c03040"/>
<circle cx="29.80" cy="494.90" r="0.7" fill="#1a9a8a"/>
<circle cx="31.70" cy="497.80" r="0.7" fill="#c03040"/>
<circle cx="68.80" cy="503.30" r="0.7" fill="#1a9a8a"/>
<circle cx="72.00" cy="502.20" r="0.7" fill="#c03040"/>
<circle cx="84.40" cy="484.80" r="0.7" fill="#1a9a8a"/>
<circle cx="90.00" cy="478.20" r="0.7" fill="#c03040"/>
<circle cx="99.40" cy="469.40" r="0.7" fill="#111"/>
<circle cx="241.50" cy="439.00" r="0.7" fill="#1a9a8a"/>
<circle cx="280.80" cy="432.60" r="0.7" fill="#1a9a8a"/>
<circle cx="283.40" cy="435.80" r="0.7" fill="#c03040"/>
<circle cx="301.40" cy="510.00" r="0.7" fill="#1a9a8a"/>
<circle cx="339.80" cy="516.00" r="0.7" fill="#1a9a8a"/>
<text x="24.30" y="447.78" font-size="3.0" text-anchor="start" fill="#454545">? Step</text>
<text x="35.50" y="447.78" font-size="3.0" text-anchor="start" fill="#454545">-6.288  %</text>
<text x="35.50" y="451.68" font-size="3.0" text-anchor="start" fill="#454545">-2.571 mg</text>
<text x="35.90" y="496.48" font-size="3.0" text-anchor="start" fill="#454545">? Step</text>
<text x="46.80" y="496.48" font-size="3.0" text-anchor="start" fill="#454545">-6.4756  %</text>
<text x="46.80" y="500.38" font-size="3.0" text-anchor="start" fill="#454545">-0.1942 mg</text>
<text x="82.50" y="497.08" font-size="3.0" text-anchor="start" fill="#454545">? Step</text>
<text x="94.20" y="497.08" font-size="3.0" text-anchor="start" fill="#454545">14.911  %</text>
<text x="94.20" y="500.98" font-size="3.0" text-anchor="start" fill="#454545">0.4861 mg</text>
<text x="92.90" y="479.68" font-size="3.0" text-anchor="start" fill="#454545">? Step</text>
<text x="103.20" y="479.68" font-size="3.0" text-anchor="start" fill="#454545">0.6926  %</text>
<text x="103.20" y="483.58" font-size="3.0" text-anchor="start" fill="#454545">0.2608 mg</text>
<text x="122.90" y="458.88" font-size="3.0" text-anchor="start" fill="#454545">? Step</text>
<text x="133.80" y="458.88" font-size="3.0" text-anchor="start" fill="#454545">1.7077  %</text>
<text x="133.80" y="462.78" font-size="3.0" text-anchor="start" fill="#454545">0.7125 mg</text>
<text x="251.50" y="439.58" font-size="3.0" text-anchor="start" fill="#454545">? Step</text>
<text x="261.50" y="439.58" font-size="3.0" text-anchor="start" fill="#454545">0.3289  %</text>
<text x="261.50" y="443.48" font-size="3.0" text-anchor="start" fill="#454545">0.1325 mg</text>
<text x="294.90" y="474.18" font-size="3.0" text-anchor="start" fill="#454545">? Step</text>
<text x="306.90" y="474.18" font-size="3.0" text-anchor="start" fill="#454545">-4.7329  %</text>
<text x="306.90" y="478.08" font-size="3.0" text-anchor="start" fill="#454545">-1.9184 mg</text>
<text x="174.30" y="545.40" font-size="7.4" text-anchor="middle" fill="#111" font-weight="bold" style="font-family:'Liberation Serif',serif">(c)</text>
</svg>
</body></html>
